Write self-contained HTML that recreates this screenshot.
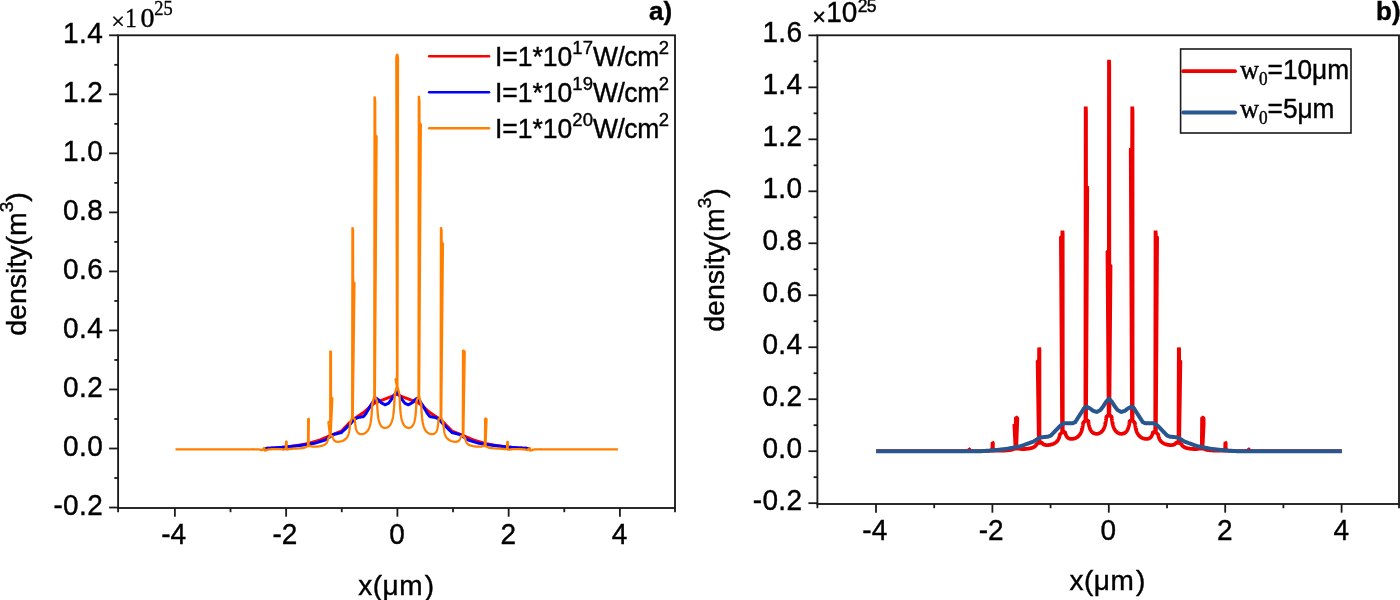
<!DOCTYPE html><html><head><meta charset="utf-8"><style>html,body{margin:0;padding:0;background:#fff;overflow:hidden}svg{display:block}text{stroke:#000;stroke-width:0.4px}</style></head><body><svg width="1400" height="600" viewBox="0 0 1400 600"><rect width="1400" height="600" fill="#fff"/><rect x="118.10" y="35.30" width="556.90" height="472.70" fill="none" stroke="#1a1a1a" stroke-width="1.85"/><line x1="118.10" y1="508.00" x2="118.10" y2="512.20" stroke="#1a1a1a" stroke-width="1.8"/><line x1="174.88" y1="508.00" x2="174.88" y2="516.70" stroke="#1a1a1a" stroke-width="1.8"/><text transform="translate(173.68 544.20) scale(1 1.04)" font-family="Liberation Sans, Arial, sans-serif" font-size="28" text-anchor="middle">-4</text><line x1="230.51" y1="508.00" x2="230.51" y2="512.20" stroke="#1a1a1a" stroke-width="1.8"/><line x1="286.14" y1="508.00" x2="286.14" y2="516.70" stroke="#1a1a1a" stroke-width="1.8"/><text transform="translate(284.94 544.20) scale(1 1.04)" font-family="Liberation Sans, Arial, sans-serif" font-size="28" text-anchor="middle">-2</text><line x1="341.77" y1="508.00" x2="341.77" y2="512.20" stroke="#1a1a1a" stroke-width="1.8"/><line x1="397.40" y1="508.00" x2="397.40" y2="516.70" stroke="#1a1a1a" stroke-width="1.8"/><text transform="translate(397.00 544.20) scale(1 1.04)" font-family="Liberation Sans, Arial, sans-serif" font-size="28" text-anchor="middle">0</text><line x1="453.03" y1="508.00" x2="453.03" y2="512.20" stroke="#1a1a1a" stroke-width="1.8"/><line x1="508.66" y1="508.00" x2="508.66" y2="516.70" stroke="#1a1a1a" stroke-width="1.8"/><text transform="translate(508.26 544.20) scale(1 1.04)" font-family="Liberation Sans, Arial, sans-serif" font-size="28" text-anchor="middle">2</text><line x1="564.29" y1="508.00" x2="564.29" y2="512.20" stroke="#1a1a1a" stroke-width="1.8"/><line x1="619.92" y1="508.00" x2="619.92" y2="516.70" stroke="#1a1a1a" stroke-width="1.8"/><text transform="translate(619.52 544.20) scale(1 1.04)" font-family="Liberation Sans, Arial, sans-serif" font-size="28" text-anchor="middle">4</text><line x1="675.00" y1="508.00" x2="675.00" y2="512.20" stroke="#1a1a1a" stroke-width="1.8"/><line x1="118.10" y1="507.53" x2="109.10" y2="507.53" stroke="#1a1a1a" stroke-width="1.8"/><text transform="translate(103.20 515.33) scale(1 1.04)" font-family="Liberation Sans, Arial, sans-serif" font-size="28" text-anchor="end" letter-spacing="0.4">-0.2</text><line x1="118.10" y1="478.01" x2="114.30" y2="478.01" stroke="#1a1a1a" stroke-width="1.8"/><line x1="118.10" y1="448.50" x2="109.10" y2="448.50" stroke="#1a1a1a" stroke-width="1.8"/><text transform="translate(103.20 456.30) scale(1 1.04)" font-family="Liberation Sans, Arial, sans-serif" font-size="28" text-anchor="end" letter-spacing="0.4">0.0</text><line x1="118.10" y1="418.99" x2="114.30" y2="418.99" stroke="#1a1a1a" stroke-width="1.8"/><line x1="118.10" y1="389.47" x2="109.10" y2="389.47" stroke="#1a1a1a" stroke-width="1.8"/><text transform="translate(103.20 397.27) scale(1 1.04)" font-family="Liberation Sans, Arial, sans-serif" font-size="28" text-anchor="end" letter-spacing="0.4">0.2</text><line x1="118.10" y1="359.96" x2="114.30" y2="359.96" stroke="#1a1a1a" stroke-width="1.8"/><line x1="118.10" y1="330.44" x2="109.10" y2="330.44" stroke="#1a1a1a" stroke-width="1.8"/><text transform="translate(103.20 338.24) scale(1 1.04)" font-family="Liberation Sans, Arial, sans-serif" font-size="28" text-anchor="end" letter-spacing="0.4">0.4</text><line x1="118.10" y1="300.93" x2="114.30" y2="300.93" stroke="#1a1a1a" stroke-width="1.8"/><line x1="118.10" y1="271.42" x2="109.10" y2="271.42" stroke="#1a1a1a" stroke-width="1.8"/><text transform="translate(103.20 279.22) scale(1 1.04)" font-family="Liberation Sans, Arial, sans-serif" font-size="28" text-anchor="end" letter-spacing="0.4">0.6</text><line x1="118.10" y1="241.90" x2="114.30" y2="241.90" stroke="#1a1a1a" stroke-width="1.8"/><line x1="118.10" y1="212.39" x2="109.10" y2="212.39" stroke="#1a1a1a" stroke-width="1.8"/><text transform="translate(103.20 220.19) scale(1 1.04)" font-family="Liberation Sans, Arial, sans-serif" font-size="28" text-anchor="end" letter-spacing="0.4">0.8</text><line x1="118.10" y1="182.87" x2="114.30" y2="182.87" stroke="#1a1a1a" stroke-width="1.8"/><line x1="118.10" y1="153.36" x2="109.10" y2="153.36" stroke="#1a1a1a" stroke-width="1.8"/><text transform="translate(103.20 161.16) scale(1 1.04)" font-family="Liberation Sans, Arial, sans-serif" font-size="28" text-anchor="end" letter-spacing="0.4">1.0</text><line x1="118.10" y1="123.85" x2="114.30" y2="123.85" stroke="#1a1a1a" stroke-width="1.8"/><line x1="118.10" y1="94.33" x2="109.10" y2="94.33" stroke="#1a1a1a" stroke-width="1.8"/><text transform="translate(103.20 102.13) scale(1 1.04)" font-family="Liberation Sans, Arial, sans-serif" font-size="28" text-anchor="end" letter-spacing="0.4">1.2</text><line x1="118.10" y1="64.82" x2="114.30" y2="64.82" stroke="#1a1a1a" stroke-width="1.8"/><line x1="118.10" y1="35.30" x2="109.10" y2="35.30" stroke="#1a1a1a" stroke-width="1.8"/><text transform="translate(103.20 43.10) scale(1 1.04)" font-family="Liberation Sans, Arial, sans-serif" font-size="28" text-anchor="end" letter-spacing="0.4">1.4</text><path d="M263.98 448.50L264.26 448.49L264.53 448.47L264.81 448.46L265.09 448.44L265.36 448.43L265.64 448.41L265.92 448.40L266.19 448.38L266.47 448.37L266.74 448.35L267.02 448.34L267.30 448.32L267.57 448.31L267.85 448.29L268.13 448.28L268.40 448.26L268.68 448.25L268.96 448.23L269.23 448.22L269.51 448.20L269.79 448.19L270.06 448.18L270.34 448.16L270.62 448.15L270.89 448.13L271.17 448.12L271.45 448.10L271.72 448.09L272.00 448.07L272.27 448.06L272.55 448.04L272.83 448.03L273.10 448.01L273.38 448.00L273.66 447.98L273.93 447.97L274.21 447.95L274.49 447.94L274.76 447.92L275.04 447.91L275.32 447.89L275.59 447.87L275.87 447.84L276.15 447.82L276.42 447.80L276.70 447.78L276.98 447.75L277.25 447.73L277.53 447.71L277.80 447.69L278.08 447.67L278.36 447.64L278.63 447.62L278.91 447.60L279.19 447.58L279.46 447.56L279.74 447.53L280.02 447.51L280.29 447.49L280.57 447.47L280.85 447.44L281.12 447.42L281.40 447.40L281.68 447.38L281.95 447.36L282.23 447.33L282.51 447.31L282.78 447.29L283.06 447.27L283.33 447.25L283.61 447.22L283.89 447.20L284.16 447.18L284.44 447.16L284.72 447.13L284.99 447.11L285.27 447.09L285.55 447.07L285.82 447.05L286.10 447.02L286.38 446.99L286.65 446.95L286.93 446.91L287.21 446.88L287.48 446.84L287.76 446.80L288.04 446.77L288.31 446.73L288.59 446.69L288.86 446.66L289.14 446.62L289.42 446.58L289.69 446.54L289.97 446.51L290.25 446.47L290.52 446.43L290.80 446.40L291.08 446.36L291.35 446.32L291.63 446.29L291.91 446.25L292.18 446.21L292.46 446.18L292.74 446.14L293.01 446.10L293.29 446.07L293.57 446.03L293.84 445.99L294.12 445.95L294.39 445.92L294.67 445.88L294.95 445.84L295.22 445.81L295.50 445.77L295.78 445.73L296.05 445.70L296.33 445.66L296.61 445.62L296.88 445.59L297.16 445.55L297.44 445.50L297.71 445.45L297.99 445.39L298.27 445.34L298.54 445.29L298.82 445.24L299.10 445.19L299.37 445.14L299.65 445.08L299.92 445.03L300.20 444.98L300.48 444.93L300.75 444.88L301.03 444.83L301.31 444.77L301.58 444.72L301.86 444.67L302.14 444.62L302.41 444.57L302.69 444.52L302.97 444.46L303.24 444.41L303.52 444.36L303.80 444.31L304.07 444.26L304.35 444.21L304.63 444.15L304.90 444.10L305.18 444.05L305.45 444.00L305.73 443.95L306.01 443.90L306.28 443.84L306.56 443.79L306.84 443.74L307.11 443.69L307.39 443.64L307.67 443.59L307.94 443.53L308.22 443.48L308.50 443.40L308.77 443.32L309.05 443.24L309.33 443.16L309.60 443.08L309.88 443.00L310.16 442.91L310.43 442.83L310.71 442.75L310.98 442.67L311.26 442.59L311.54 442.51L311.81 442.43L312.09 442.35L312.37 442.27L312.64 442.18L312.92 442.10L313.20 442.02L313.47 441.94L313.75 441.86L314.03 441.78L314.30 441.70L314.58 441.62L314.86 441.53L315.13 441.45L315.41 441.37L315.69 441.29L315.96 441.21L316.24 441.13L316.51 441.05L316.79 440.97L317.07 440.89L317.34 440.80L317.62 440.72L317.90 440.64L318.17 440.56L318.45 440.48L318.73 440.40L319.00 440.32L319.28 440.24L319.56 440.12L319.83 440.00L320.11 439.88L320.39 439.76L320.66 439.65L320.94 439.53L321.22 439.41L321.49 439.29L321.77 439.17L322.04 439.06L322.32 438.94L322.60 438.82L322.87 438.70L323.15 438.58L323.43 438.47L323.70 438.35L323.98 438.23L324.26 438.11L324.53 437.99L324.81 437.87L325.09 437.76L325.36 437.64L325.64 437.52L325.92 437.40L326.19 437.28L326.47 437.17L326.75 437.05L327.02 436.93L327.30 436.81L327.57 436.69L327.85 436.58L328.13 436.46L328.40 436.34L328.68 436.22L328.96 436.10L329.23 435.99L329.51 435.87L329.79 435.75L330.06 435.63L330.34 435.51L330.62 435.40L330.89 435.29L331.17 435.18L331.45 435.07L331.72 434.96L332.00 434.85L332.28 434.74L332.55 434.63L332.83 434.52L333.10 434.41L333.38 434.30L333.66 434.19L333.93 434.08L334.21 433.96L334.49 433.85L334.76 433.74L335.04 433.63L335.32 433.52L335.59 433.41L335.87 433.30L336.15 433.19L336.42 433.08L336.70 432.97L336.98 432.86L337.25 432.75L337.53 432.64L337.81 432.53L338.08 432.41L338.36 432.30L338.63 432.19L338.91 432.08L339.19 431.97L339.46 431.86L339.74 431.75L340.02 431.64L340.29 431.53L340.57 431.42L340.85 431.31L341.12 431.20L341.40 431.09L341.68 430.80L341.95 430.52L342.23 430.23L342.51 429.95L342.78 429.66L343.06 429.37L343.34 429.09L343.61 428.80L343.89 428.52L344.16 428.23L344.44 427.95L344.72 427.66L344.99 427.38L345.27 427.09L345.55 426.81L345.82 426.52L346.10 426.24L346.38 425.95L346.65 425.67L346.93 425.38L347.21 425.10L347.48 424.81L347.76 424.52L348.04 424.24L348.31 423.95L348.59 423.67L348.87 423.38L349.14 423.10L349.42 422.81L349.69 422.53L349.97 422.30L350.25 422.08L350.52 421.85L350.80 421.63L351.08 421.40L351.35 421.18L351.63 420.95L351.91 420.73L352.18 420.50L352.46 420.28L352.74 420.05L353.01 419.83L353.29 419.60L353.57 419.38L353.84 419.15L354.12 418.93L354.40 418.70L354.67 418.48L354.95 418.26L355.22 418.03L355.50 417.81L355.78 417.62L356.05 417.44L356.33 417.26L356.61 417.07L356.88 416.89L357.16 416.71L357.44 416.52L357.71 416.34L357.99 416.16L358.27 415.97L358.54 415.79L358.82 415.61L359.10 415.42L359.37 415.24L359.65 415.06L359.93 414.87L360.20 414.69L360.48 414.51L360.75 414.32L361.03 414.14L361.31 413.96L361.58 413.78L361.86 413.59L362.14 413.41L362.41 413.23L362.69 413.04L362.97 412.86L363.24 412.68L363.52 412.49L363.80 412.25L364.07 412.01L364.35 411.77L364.63 411.53L364.90 411.29L365.18 411.05L365.46 410.81L365.73 410.57L366.01 410.33L366.28 410.09L366.56 409.84L366.84 409.60L367.11 409.36L367.39 409.12L367.67 408.88L367.94 408.64L368.22 408.40L368.50 408.16L368.77 407.92L369.05 407.68L369.33 407.44L369.60 407.20L369.88 406.96L370.16 406.71L370.43 406.47L370.71 406.23L370.99 405.99L371.26 405.75L371.54 405.51L371.81 405.27L372.09 405.03L372.37 404.79L372.64 404.55L372.92 404.31L373.20 404.07L373.47 403.83L373.75 403.58L374.03 403.34L374.30 403.23L374.58 403.12L374.86 403.01L375.13 402.90L375.41 402.79L375.69 402.68L375.96 402.57L376.24 402.46L376.52 402.35L376.79 402.24L377.07 402.13L377.34 402.02L377.62 401.90L377.90 401.79L378.17 401.68L378.45 401.57L378.73 401.46L379.00 401.35L379.28 401.24L379.56 401.13L379.83 401.02L380.11 400.91L380.39 400.80L380.66 400.69L380.94 400.58L381.22 400.47L381.49 400.37L381.77 400.26L382.05 400.15L382.32 400.04L382.60 399.94L382.87 399.83L383.15 399.72L383.43 399.61L383.70 399.51L383.98 399.40L384.26 399.29L384.53 399.18L384.81 399.08L385.09 398.97L385.36 398.86L385.64 398.76L385.92 398.65L386.19 398.54L386.47 398.43L386.75 398.33L387.02 398.22L387.30 398.12L387.58 398.02L387.85 397.91L388.13 397.81L388.40 397.71L388.68 397.60L388.96 397.50L389.23 397.40L389.51 397.29L389.79 397.19L390.06 397.09L390.34 396.98L390.62 396.88L390.89 396.78L391.17 396.67L391.45 396.57L391.72 396.47L392.00 396.36L392.28 396.26L392.55 396.13L392.83 396.00L393.11 395.87L393.38 395.74L393.66 395.61L393.93 395.49L394.21 395.36L394.49 395.23L394.76 395.10L395.04 394.97L395.32 394.84L395.59 394.71L395.87 394.58L396.15 394.45L396.42 394.32L396.70 394.19L396.98 394.32L397.25 394.45L397.53 394.58L397.81 394.71L398.08 394.84L398.36 394.97L398.64 395.10L398.91 395.23L399.19 395.36L399.46 395.49L399.74 395.61L400.02 395.74L400.29 395.87L400.57 396.00L400.85 396.13L401.12 396.26L401.40 396.36L401.68 396.47L401.95 396.57L402.23 396.67L402.51 396.78L402.78 396.88L403.06 396.98L403.34 397.09L403.61 397.19L403.89 397.29L404.17 397.40L404.44 397.50L404.72 397.60L404.99 397.71L405.27 397.81L405.55 397.91L405.82 398.02L406.10 398.12L406.38 398.22L406.65 398.33L406.93 398.43L407.21 398.54L407.48 398.65L407.76 398.76L408.04 398.86L408.31 398.97L408.59 399.08L408.87 399.18L409.14 399.29L409.42 399.40L409.70 399.51L409.97 399.61L410.25 399.72L410.52 399.83L410.80 399.94L411.08 400.04L411.35 400.15L411.63 400.26L411.91 400.37L412.18 400.47L412.46 400.58L412.74 400.69L413.01 400.80L413.29 400.91L413.57 401.02L413.84 401.13L414.12 401.24L414.40 401.35L414.67 401.46L414.95 401.57L415.23 401.68L415.50 401.79L415.78 401.90L416.05 402.02L416.33 402.13L416.61 402.24L416.88 402.35L417.16 402.46L417.44 402.57L417.71 402.68L417.99 402.79L418.27 402.90L418.54 403.01L418.82 403.12L419.10 403.23L419.37 403.34L419.65 403.58L419.93 403.83L420.20 404.07L420.48 404.31L420.76 404.55L421.03 404.79L421.31 405.03L421.58 405.27L421.86 405.51L422.14 405.75L422.41 405.99L422.69 406.23L422.97 406.47L423.24 406.71L423.52 406.96L423.80 407.20L424.07 407.44L424.35 407.68L424.63 407.92L424.90 408.16L425.18 408.40L425.46 408.64L425.73 408.88L426.01 409.12L426.29 409.36L426.56 409.60L426.84 409.84L427.11 410.09L427.39 410.33L427.67 410.57L427.94 410.81L428.22 411.05L428.50 411.29L428.77 411.53L429.05 411.77L429.33 412.01L429.60 412.25L429.88 412.49L430.16 412.68L430.43 412.86L430.71 413.04L430.99 413.23L431.26 413.41L431.54 413.59L431.82 413.78L432.09 413.96L432.37 414.14L432.64 414.32L432.92 414.51L433.20 414.69L433.47 414.87L433.75 415.06L434.03 415.24L434.30 415.42L434.58 415.61L434.86 415.79L435.13 415.97L435.41 416.16L435.69 416.34L435.96 416.52L436.24 416.71L436.52 416.89L436.79 417.07L437.07 417.26L437.35 417.44L437.62 417.62L437.90 417.81L438.17 418.03L438.45 418.26L438.73 418.48L439.00 418.70L439.28 418.93L439.56 419.15L439.83 419.38L440.11 419.60L440.39 419.83L440.66 420.05L440.94 420.28L441.22 420.50L441.49 420.73L441.77 420.95L442.05 421.18L442.32 421.40L442.60 421.63L442.88 421.85L443.15 422.08L443.43 422.30L443.70 422.53L443.98 422.81L444.26 423.10L444.53 423.38L444.81 423.67L445.09 423.95L445.36 424.24L445.64 424.52L445.92 424.81L446.19 425.10L446.47 425.38L446.75 425.67L447.02 425.95L447.30 426.24L447.58 426.52L447.85 426.81L448.13 427.09L448.41 427.38L448.68 427.66L448.96 427.95L449.23 428.23L449.51 428.52L449.79 428.80L450.06 429.09L450.34 429.37L450.62 429.66L450.89 429.95L451.17 430.23L451.45 430.52L451.72 430.80L452.00 431.09L452.28 431.20L452.55 431.31L452.83 431.42L453.11 431.53L453.38 431.64L453.66 431.75L453.94 431.86L454.21 431.97L454.49 432.08L454.76 432.19L455.04 432.30L455.32 432.41L455.59 432.53L455.87 432.64L456.15 432.75L456.42 432.86L456.70 432.97L456.98 433.08L457.25 433.19L457.53 433.30L457.81 433.41L458.08 433.52L458.36 433.63L458.64 433.74L458.91 433.85L459.19 433.96L459.47 434.08L459.74 434.19L460.02 434.30L460.29 434.41L460.57 434.52L460.85 434.63L461.12 434.74L461.40 434.85L461.68 434.96L461.95 435.07L462.23 435.18L462.51 435.29L462.78 435.40L463.06 435.51L463.34 435.63L463.61 435.75L463.89 435.87L464.17 435.99L464.44 436.10L464.72 436.22L465.00 436.34L465.27 436.46L465.55 436.58L465.82 436.69L466.10 436.81L466.38 436.93L466.65 437.05L466.93 437.17L467.21 437.28L467.48 437.40L467.76 437.52L468.04 437.64L468.31 437.76L468.59 437.87L468.87 437.99L469.14 438.11L469.42 438.23L469.70 438.35L469.97 438.47L470.25 438.58L470.53 438.70L470.80 438.82L471.08 438.94L471.35 439.06L471.63 439.17L471.91 439.29L472.18 439.41L472.46 439.53L472.74 439.65L473.01 439.76L473.29 439.88L473.57 440.00L473.84 440.12L474.12 440.24L474.40 440.32L474.67 440.40L474.95 440.48L475.23 440.56L475.50 440.64L475.78 440.72L476.06 440.80L476.33 440.89L476.61 440.97L476.88 441.05L477.16 441.13L477.44 441.21L477.71 441.29L477.99 441.37L478.27 441.45L478.54 441.53L478.82 441.62L479.10 441.70L479.37 441.78L479.65 441.86L479.93 441.94L480.20 442.02L480.48 442.10L480.76 442.18L481.03 442.27L481.31 442.35L481.59 442.43L481.86 442.51L482.14 442.59L482.41 442.67L482.69 442.75L482.97 442.83L483.24 442.91L483.52 443.00L483.80 443.08L484.07 443.16L484.35 443.24L484.63 443.32L484.90 443.40L485.18 443.48L485.46 443.53L485.73 443.59L486.01 443.64L486.29 443.69L486.56 443.74L486.84 443.79L487.12 443.84L487.39 443.90L487.67 443.95L487.94 444.00L488.22 444.05L488.50 444.10L488.77 444.15L489.05 444.21L489.33 444.26L489.60 444.31L489.88 444.36L490.16 444.41L490.43 444.46L490.71 444.52L490.99 444.57L491.26 444.62L491.54 444.67L491.82 444.72L492.09 444.77L492.37 444.83L492.65 444.88L492.92 444.93L493.20 444.98L493.47 445.03L493.75 445.08L494.03 445.14L494.30 445.19L494.58 445.24L494.86 445.29L495.13 445.34L495.41 445.39L495.69 445.45L495.96 445.50L496.24 445.55L496.52 445.59L496.79 445.62L497.07 445.66L497.35 445.70L497.62 445.73L497.90 445.77L498.18 445.81L498.45 445.84L498.73 445.88L499.00 445.92L499.28 445.95L499.56 445.99L499.83 446.03L500.11 446.07L500.39 446.10L500.66 446.14L500.94 446.18L501.22 446.21L501.49 446.25L501.77 446.29L502.05 446.32L502.32 446.36L502.60 446.40L502.88 446.43L503.15 446.47L503.43 446.51L503.71 446.54L503.98 446.58L504.26 446.62L504.53 446.66L504.81 446.69L505.09 446.73L505.36 446.77L505.64 446.80L505.92 446.84L506.19 446.88L506.47 446.91L506.75 446.95L507.02 446.99L507.30 447.02L507.58 447.05L507.85 447.07L508.13 447.09L508.41 447.11L508.68 447.13L508.96 447.16L509.24 447.18L509.51 447.20L509.79 447.22L510.06 447.25L510.34 447.27L510.62 447.29L510.89 447.31L511.17 447.33L511.45 447.36L511.72 447.38L512.00 447.40L512.28 447.42L512.55 447.44L512.83 447.47L513.11 447.49L513.38 447.51L513.66 447.53L513.94 447.56L514.21 447.58L514.49 447.60L514.77 447.62L515.04 447.64L515.32 447.67L515.59 447.69L515.87 447.71L516.15 447.73L516.42 447.75L516.70 447.78L516.98 447.80L517.25 447.82L517.53 447.84L517.81 447.87L518.08 447.89L518.36 447.91L518.64 447.92L518.91 447.94L519.19 447.95L519.47 447.97L519.74 447.98L520.02 448.00L520.30 448.01L520.57 448.03L520.85 448.04L521.12 448.06L521.40 448.07L521.68 448.09L521.95 448.10L522.23 448.12L522.51 448.13L522.78 448.15L523.06 448.16L523.34 448.18L523.61 448.19L523.89 448.20L524.17 448.22L524.44 448.23L524.72 448.25L525.00 448.26L525.27 448.28L525.55 448.29L525.83 448.31L526.10 448.32L526.38 448.34L526.65 448.35L526.93 448.37L527.21 448.38L527.48 448.40L527.76 448.41L528.04 448.43L528.31 448.44L528.59 448.46L528.87 448.47L529.14 448.49L529.42 448.50" fill="none" stroke="#ff0000" stroke-width="3" stroke-linejoin="round" stroke-linecap="butt"/><path d="M263.98 448.50L264.26 448.49L264.53 448.47L264.81 448.46L265.09 448.44L265.36 448.43L265.64 448.41L265.92 448.40L266.19 448.38L266.47 448.37L266.74 448.35L267.02 448.34L267.30 448.32L267.57 448.31L267.85 448.29L268.13 448.28L268.40 448.26L268.68 448.25L268.96 448.23L269.23 448.22L269.51 448.20L269.79 448.19L270.06 448.18L270.34 448.16L270.62 448.15L270.89 448.13L271.17 448.12L271.45 448.10L271.72 448.09L272.00 448.07L272.27 448.06L272.55 448.04L272.83 448.03L273.10 448.01L273.38 448.00L273.66 447.98L273.93 447.97L274.21 447.95L274.49 447.94L274.76 447.92L275.04 447.91L275.32 447.89L275.59 447.87L275.87 447.84L276.15 447.82L276.42 447.80L276.70 447.78L276.98 447.75L277.25 447.73L277.53 447.71L277.80 447.69L278.08 447.67L278.36 447.64L278.63 447.62L278.91 447.60L279.19 447.58L279.46 447.56L279.74 447.53L280.02 447.51L280.29 447.49L280.57 447.47L280.85 447.44L281.12 447.42L281.40 447.40L281.68 447.38L281.95 447.36L282.23 447.33L282.51 447.31L282.78 447.29L283.06 447.27L283.33 447.25L283.61 447.22L283.89 447.20L284.16 447.18L284.44 447.16L284.72 447.13L284.99 447.11L285.27 447.09L285.55 447.07L285.82 447.05L286.10 447.02L286.38 446.99L286.65 446.96L286.93 446.93L287.21 446.90L287.48 446.87L287.76 446.83L288.04 446.80L288.31 446.77L288.59 446.74L288.86 446.71L289.14 446.68L289.42 446.64L289.69 446.61L289.97 446.58L290.25 446.55L290.52 446.52L290.80 446.49L291.08 446.46L291.35 446.42L291.63 446.39L291.91 446.36L292.18 446.33L292.46 446.30L292.74 446.27L293.01 446.23L293.29 446.20L293.57 446.17L293.84 446.14L294.12 446.11L294.39 446.08L294.67 446.04L294.95 446.01L295.22 445.98L295.50 445.95L295.78 445.92L296.05 445.89L296.33 445.85L296.61 445.82L296.88 445.79L297.16 445.76L297.44 445.73L297.71 445.70L297.99 445.66L298.27 445.63L298.54 445.60L298.82 445.57L299.10 445.54L299.37 445.51L299.65 445.47L299.92 445.44L300.20 445.41L300.48 445.38L300.75 445.35L301.03 445.32L301.31 445.29L301.58 445.25L301.86 445.21L302.14 445.17L302.41 445.12L302.69 445.08L302.97 445.04L303.24 445.00L303.52 444.95L303.80 444.91L304.07 444.87L304.35 444.82L304.63 444.78L304.90 444.74L305.18 444.69L305.45 444.65L305.73 444.61L306.01 444.56L306.28 444.52L306.56 444.48L306.84 444.44L307.11 444.39L307.39 444.35L307.67 444.31L307.94 444.26L308.22 444.22L308.50 444.18L308.77 444.13L309.05 444.09L309.33 444.05L309.60 444.01L309.88 443.96L310.16 443.92L310.43 443.88L310.71 443.83L310.98 443.79L311.26 443.75L311.54 443.70L311.81 443.66L312.09 443.62L312.37 443.57L312.64 443.53L312.92 443.49L313.20 443.45L313.47 443.40L313.75 443.36L314.03 443.32L314.30 443.27L314.58 443.23L314.86 443.19L315.13 443.10L315.41 443.02L315.69 442.93L315.96 442.85L316.24 442.76L316.51 442.67L316.79 442.59L317.07 442.50L317.34 442.42L317.62 442.33L317.90 442.25L318.17 442.16L318.45 442.08L318.73 441.99L319.00 441.91L319.28 441.82L319.56 441.74L319.83 441.65L320.11 441.56L320.39 441.48L320.66 441.39L320.94 441.31L321.22 441.22L321.49 441.14L321.77 441.05L322.04 440.97L322.32 440.88L322.60 440.80L322.87 440.71L323.15 440.62L323.43 440.54L323.70 440.45L323.98 440.37L324.26 440.28L324.53 440.20L324.81 440.11L325.09 440.03L325.36 439.94L325.64 439.75L325.92 439.56L326.19 439.37L326.47 439.18L326.75 438.99L327.02 438.80L327.30 438.61L327.57 438.42L327.85 438.23L328.13 438.04L328.40 437.85L328.68 437.66L328.96 437.47L329.23 437.28L329.51 437.09L329.79 436.91L330.06 436.72L330.34 436.53L330.62 436.34L330.89 436.15L331.17 435.96L331.45 435.77L331.72 435.58L332.00 435.39L332.28 435.20L332.55 435.01L332.83 434.82L333.10 434.63L333.38 434.56L333.66 434.49L333.93 434.42L334.21 434.35L334.49 434.28L334.76 434.22L335.04 434.15L335.32 434.08L335.59 434.01L335.87 433.94L336.15 433.87L336.42 433.80L336.70 433.73L336.98 433.66L337.25 433.60L337.53 433.53L337.81 433.46L338.08 433.39L338.36 433.32L338.63 433.25L338.91 433.18L339.19 433.11L339.46 433.04L339.74 432.98L340.02 432.91L340.29 432.84L340.57 432.77L340.85 432.70L341.12 432.63L341.40 432.56L341.68 432.29L341.95 432.03L342.23 431.76L342.51 431.49L342.78 431.23L343.06 430.96L343.34 430.69L343.61 430.42L343.89 430.16L344.16 429.89L344.44 429.62L344.72 429.35L344.99 429.09L345.27 428.82L345.55 428.55L345.82 428.28L346.10 428.02L346.38 427.75L346.65 427.48L346.93 427.21L347.21 426.95L347.48 426.68L347.76 426.41L348.04 426.14L348.31 425.88L348.59 425.61L348.87 425.34L349.14 425.07L349.42 424.81L349.69 424.54L349.97 424.27L350.25 424.00L350.52 423.69L350.80 423.38L351.08 423.06L351.35 422.75L351.63 422.44L351.91 422.12L352.18 421.81L352.46 421.49L352.74 421.18L353.01 420.87L353.29 420.55L353.57 420.24L353.84 419.93L354.12 419.61L354.40 419.30L354.67 418.99L354.95 418.86L355.22 418.74L355.50 418.62L355.78 418.49L356.05 418.37L356.33 418.25L356.61 418.13L356.88 418.00L357.16 417.88L357.44 417.76L357.71 417.63L357.99 417.51L358.27 417.47L358.54 417.42L358.82 417.38L359.10 417.33L359.37 417.29L359.65 417.24L359.93 417.20L360.20 417.16L360.48 417.11L360.75 417.07L361.03 417.02L361.31 416.98L361.58 416.93L361.86 416.89L362.14 416.85L362.41 416.80L362.69 416.76L362.97 416.71L363.24 416.67L363.52 416.62L363.80 416.27L364.07 415.92L364.35 415.56L364.63 415.21L364.90 414.85L365.18 414.50L365.46 414.15L365.73 413.79L366.01 413.44L366.28 413.08L366.56 412.59L366.84 412.10L367.11 411.61L367.39 411.12L367.67 410.62L367.94 410.13L368.22 409.64L368.50 409.15L368.77 408.66L369.05 408.16L369.33 407.67L369.60 407.18L369.88 406.69L370.16 406.20L370.43 405.70L370.71 405.30L370.99 404.90L371.26 404.50L371.54 404.09L371.81 403.69L372.09 403.29L372.37 402.89L372.64 402.48L372.92 402.08L373.20 401.68L373.47 401.28L373.75 400.98L374.03 400.69L374.30 400.39L374.58 400.10L374.86 399.80L375.13 399.51L375.41 399.21L375.69 398.92L375.96 398.62L376.24 398.33L376.52 398.51L376.79 398.70L377.07 398.88L377.34 399.06L377.62 399.25L377.90 399.43L378.17 399.62L378.45 399.80L378.73 400.10L379.00 400.39L379.28 400.69L379.56 400.98L379.83 401.28L380.11 401.57L380.39 401.87L380.66 402.16L380.94 402.46L381.22 402.75L381.49 402.90L381.77 403.05L382.05 403.20L382.32 403.34L382.60 403.49L382.87 403.64L383.15 403.79L383.43 403.93L383.70 404.08L383.98 404.23L384.26 404.38L384.53 404.52L384.81 404.67L385.09 404.82L385.36 404.70L385.64 404.57L385.92 404.45L386.19 404.33L386.47 404.20L386.75 404.08L387.02 403.96L387.30 403.84L387.58 403.71L387.85 403.59L388.13 403.47L388.40 403.34L388.68 402.99L388.96 402.64L389.23 402.28L389.51 401.93L389.79 401.57L390.06 401.22L390.34 400.86L390.62 400.51L390.89 400.16L391.17 399.80L391.45 399.36L391.72 398.92L392.00 398.47L392.28 398.03L392.55 397.59L392.83 397.15L393.11 396.70L393.38 396.26L393.66 395.82L393.93 395.37L394.21 394.99L394.49 394.61L394.76 394.22L395.04 393.84L395.32 393.46L395.59 393.07L395.87 392.69L396.15 392.31L396.42 391.92L396.70 391.54L396.98 391.92L397.25 392.31L397.53 392.69L397.81 393.07L398.08 393.46L398.36 393.84L398.64 394.22L398.91 394.61L399.19 394.99L399.46 395.37L399.74 395.82L400.02 396.26L400.29 396.70L400.57 397.15L400.85 397.59L401.12 398.03L401.40 398.47L401.68 398.92L401.95 399.36L402.23 399.80L402.51 400.16L402.78 400.51L403.06 400.86L403.34 401.22L403.61 401.57L403.89 401.93L404.17 402.28L404.44 402.64L404.72 402.99L404.99 403.34L405.27 403.47L405.55 403.59L405.82 403.71L406.10 403.84L406.38 403.96L406.65 404.08L406.93 404.20L407.21 404.33L407.48 404.45L407.76 404.57L408.04 404.70L408.31 404.82L408.59 404.67L408.87 404.52L409.14 404.38L409.42 404.23L409.70 404.08L409.97 403.93L410.25 403.79L410.52 403.64L410.80 403.49L411.08 403.34L411.35 403.20L411.63 403.05L411.91 402.90L412.18 402.75L412.46 402.46L412.74 402.16L413.01 401.87L413.29 401.57L413.57 401.28L413.84 400.98L414.12 400.69L414.40 400.39L414.67 400.10L414.95 399.80L415.23 399.62L415.50 399.43L415.78 399.25L416.05 399.06L416.33 398.88L416.61 398.70L416.88 398.51L417.16 398.33L417.44 398.62L417.71 398.92L417.99 399.21L418.27 399.51L418.54 399.80L418.82 400.10L419.10 400.39L419.37 400.69L419.65 400.98L419.93 401.28L420.20 401.68L420.48 402.08L420.76 402.48L421.03 402.89L421.31 403.29L421.58 403.69L421.86 404.09L422.14 404.50L422.41 404.90L422.69 405.30L422.97 405.70L423.24 406.20L423.52 406.69L423.80 407.18L424.07 407.67L424.35 408.16L424.63 408.66L424.90 409.15L425.18 409.64L425.46 410.13L425.73 410.62L426.01 411.12L426.29 411.61L426.56 412.10L426.84 412.59L427.11 413.08L427.39 413.44L427.67 413.79L427.94 414.15L428.22 414.50L428.50 414.85L428.77 415.21L429.05 415.56L429.33 415.92L429.60 416.27L429.88 416.62L430.16 416.67L430.43 416.71L430.71 416.76L430.99 416.80L431.26 416.85L431.54 416.89L431.82 416.93L432.09 416.98L432.37 417.02L432.64 417.07L432.92 417.11L433.20 417.16L433.47 417.20L433.75 417.24L434.03 417.29L434.30 417.33L434.58 417.38L434.86 417.42L435.13 417.47L435.41 417.51L435.69 417.63L435.96 417.76L436.24 417.88L436.52 418.00L436.79 418.13L437.07 418.25L437.35 418.37L437.62 418.49L437.90 418.62L438.17 418.74L438.45 418.86L438.73 418.99L439.00 419.30L439.28 419.61L439.56 419.93L439.83 420.24L440.11 420.55L440.39 420.87L440.66 421.18L440.94 421.49L441.22 421.81L441.49 422.12L441.77 422.44L442.05 422.75L442.32 423.06L442.60 423.38L442.88 423.69L443.15 424.00L443.43 424.27L443.70 424.54L443.98 424.81L444.26 425.07L444.53 425.34L444.81 425.61L445.09 425.88L445.36 426.14L445.64 426.41L445.92 426.68L446.19 426.95L446.47 427.21L446.75 427.48L447.02 427.75L447.30 428.02L447.58 428.28L447.85 428.55L448.13 428.82L448.41 429.09L448.68 429.35L448.96 429.62L449.23 429.89L449.51 430.16L449.79 430.42L450.06 430.69L450.34 430.96L450.62 431.23L450.89 431.49L451.17 431.76L451.45 432.03L451.72 432.29L452.00 432.56L452.28 432.63L452.55 432.70L452.83 432.77L453.11 432.84L453.38 432.91L453.66 432.98L453.94 433.04L454.21 433.11L454.49 433.18L454.76 433.25L455.04 433.32L455.32 433.39L455.59 433.46L455.87 433.53L456.15 433.60L456.42 433.66L456.70 433.73L456.98 433.80L457.25 433.87L457.53 433.94L457.81 434.01L458.08 434.08L458.36 434.15L458.64 434.22L458.91 434.28L459.19 434.35L459.47 434.42L459.74 434.49L460.02 434.56L460.29 434.63L460.57 434.82L460.85 435.01L461.12 435.20L461.40 435.39L461.68 435.58L461.95 435.77L462.23 435.96L462.51 436.15L462.78 436.34L463.06 436.53L463.34 436.72L463.61 436.91L463.89 437.09L464.17 437.28L464.44 437.47L464.72 437.66L465.00 437.85L465.27 438.04L465.55 438.23L465.82 438.42L466.10 438.61L466.38 438.80L466.65 438.99L466.93 439.18L467.21 439.37L467.48 439.56L467.76 439.75L468.04 439.94L468.31 440.03L468.59 440.11L468.87 440.20L469.14 440.28L469.42 440.37L469.70 440.45L469.97 440.54L470.25 440.62L470.53 440.71L470.80 440.80L471.08 440.88L471.35 440.97L471.63 441.05L471.91 441.14L472.18 441.22L472.46 441.31L472.74 441.39L473.01 441.48L473.29 441.56L473.57 441.65L473.84 441.74L474.12 441.82L474.40 441.91L474.67 441.99L474.95 442.08L475.23 442.16L475.50 442.25L475.78 442.33L476.06 442.42L476.33 442.50L476.61 442.59L476.88 442.67L477.16 442.76L477.44 442.85L477.71 442.93L477.99 443.02L478.27 443.10L478.54 443.19L478.82 443.23L479.10 443.27L479.37 443.32L479.65 443.36L479.93 443.40L480.20 443.45L480.48 443.49L480.76 443.53L481.03 443.57L481.31 443.62L481.59 443.66L481.86 443.70L482.14 443.75L482.41 443.79L482.69 443.83L482.97 443.88L483.24 443.92L483.52 443.96L483.80 444.01L484.07 444.05L484.35 444.09L484.63 444.13L484.90 444.18L485.18 444.22L485.46 444.26L485.73 444.31L486.01 444.35L486.29 444.39L486.56 444.44L486.84 444.48L487.12 444.52L487.39 444.56L487.67 444.61L487.94 444.65L488.22 444.69L488.50 444.74L488.77 444.78L489.05 444.82L489.33 444.87L489.60 444.91L489.88 444.95L490.16 445.00L490.43 445.04L490.71 445.08L490.99 445.12L491.26 445.17L491.54 445.21L491.82 445.25L492.09 445.29L492.37 445.32L492.65 445.35L492.92 445.38L493.20 445.41L493.47 445.44L493.75 445.47L494.03 445.51L494.30 445.54L494.58 445.57L494.86 445.60L495.13 445.63L495.41 445.66L495.69 445.70L495.96 445.73L496.24 445.76L496.52 445.79L496.79 445.82L497.07 445.85L497.35 445.89L497.62 445.92L497.90 445.95L498.18 445.98L498.45 446.01L498.73 446.04L499.00 446.08L499.28 446.11L499.56 446.14L499.83 446.17L500.11 446.20L500.39 446.23L500.66 446.27L500.94 446.30L501.22 446.33L501.49 446.36L501.77 446.39L502.05 446.42L502.32 446.46L502.60 446.49L502.88 446.52L503.15 446.55L503.43 446.58L503.71 446.61L503.98 446.64L504.26 446.68L504.53 446.71L504.81 446.74L505.09 446.77L505.36 446.80L505.64 446.83L505.92 446.87L506.19 446.90L506.47 446.93L506.75 446.96L507.02 446.99L507.30 447.02L507.58 447.05L507.85 447.07L508.13 447.09L508.41 447.11L508.68 447.13L508.96 447.16L509.24 447.18L509.51 447.20L509.79 447.22L510.06 447.25L510.34 447.27L510.62 447.29L510.89 447.31L511.17 447.33L511.45 447.36L511.72 447.38L512.00 447.40L512.28 447.42L512.55 447.44L512.83 447.47L513.11 447.49L513.38 447.51L513.66 447.53L513.94 447.56L514.21 447.58L514.49 447.60L514.77 447.62L515.04 447.64L515.32 447.67L515.59 447.69L515.87 447.71L516.15 447.73L516.42 447.75L516.70 447.78L516.98 447.80L517.25 447.82L517.53 447.84L517.81 447.87L518.08 447.89L518.36 447.91L518.64 447.92L518.91 447.94L519.19 447.95L519.47 447.97L519.74 447.98L520.02 448.00L520.30 448.01L520.57 448.03L520.85 448.04L521.12 448.06L521.40 448.07L521.68 448.09L521.95 448.10L522.23 448.12L522.51 448.13L522.78 448.15L523.06 448.16L523.34 448.18L523.61 448.19L523.89 448.20L524.17 448.22L524.44 448.23L524.72 448.25L525.00 448.26L525.27 448.28L525.55 448.29L525.83 448.31L526.10 448.32L526.38 448.34L526.65 448.35L526.93 448.37L527.21 448.38L527.48 448.40L527.76 448.41L528.04 448.43L528.31 448.44L528.59 448.46L528.87 448.47L529.14 448.49L529.42 448.50" fill="none" stroke="#0000ff" stroke-width="3" stroke-linejoin="round" stroke-linecap="butt"/><path d="M175.50 449.30L176.61 449.30L177.71 449.30L178.82 449.30L179.92 449.30L181.03 449.30L182.14 449.30L183.24 449.30L184.35 449.30L185.45 449.30L186.56 449.30L187.67 449.30L188.77 449.30L189.88 449.30L190.98 449.30L192.09 449.30L193.20 449.30L194.30 449.30L195.41 449.30L196.51 449.30L197.62 449.30L198.73 449.30L199.83 449.30L200.94 449.30L202.04 449.30L203.15 449.30L204.26 449.30L205.36 449.30L206.47 449.30L207.57 449.30L208.68 449.30L209.79 449.30L210.89 449.30L212.00 449.30L213.10 449.30L214.21 449.30L215.32 449.30L216.42 449.30L217.53 449.30L218.63 449.30L219.74 449.30L220.85 449.30L221.95 449.30L223.06 449.30L224.16 449.30L225.27 449.30L226.38 449.30L227.48 449.30L228.59 449.30L229.69 449.29L230.80 449.29L231.91 449.29L233.01 449.29L234.12 449.29L235.22 449.29L236.33 449.29L237.44 449.29L238.54 449.29L239.65 449.29L240.75 449.29L241.86 449.29L242.97 449.29L244.07 449.29L245.18 449.29L246.28 449.29L247.39 449.28L248.50 449.28L249.60 449.28L250.71 449.28L251.81 449.28L252.92 449.27L253.78 449.28L254.57 449.28L255.15 449.29L255.64 449.30L256.07 449.31L256.45 449.33L256.80 449.34L257.13 449.35L257.43 449.37L257.71 449.39L257.98 449.40L258.23 449.42L258.46 449.44L258.69 449.46L258.90 449.48L259.10 449.50L259.29 449.53L259.47 449.55L259.65 449.58L259.81 449.61L259.97 449.64L260.12 449.67L260.27 449.71L260.40 449.74L260.53 449.78L260.66 449.82L260.78 449.87L260.89 449.91L261.00 449.96L261.10 450.02L261.20 450.08L261.29 450.14L261.38 450.21L261.46 450.29L261.54 450.37L263.70 448.50L263.98 447.91L264.59 447.92L264.26 450.63L266.42 450.30L266.50 450.22L266.58 450.14L266.67 450.08L266.76 450.01L266.86 449.95L266.96 449.90L267.07 449.85L267.18 449.80L267.30 449.76L267.43 449.71L267.56 449.68L267.69 449.64L267.84 449.60L267.99 449.57L268.15 449.54L268.31 449.51L268.49 449.48L268.67 449.46L268.86 449.43L269.06 449.41L269.27 449.38L269.50 449.36L269.73 449.34L269.98 449.32L270.25 449.30L270.53 449.28L270.83 449.27L271.16 449.25L271.51 449.23L271.89 449.21L272.32 449.20L272.81 449.18L273.39 449.17L274.18 449.15L275.90 449.13L276.69 449.12L277.27 449.12L277.76 449.13L278.19 449.13L278.57 449.13L278.92 449.14L279.25 449.14L279.55 449.15L279.83 449.15L280.10 449.16L280.35 449.17L280.58 449.18L280.81 449.19L281.02 449.20L281.22 449.21L281.41 449.22L281.59 449.24L281.77 449.25L281.93 449.27L282.09 449.28L282.24 449.30L282.39 449.32L282.52 449.34L282.65 449.36L282.78 449.39L282.90 449.41L283.01 449.44L283.12 449.47L283.22 449.50L283.32 449.54L283.41 449.57L283.50 449.61L283.58 449.66L283.66 449.71L285.82 448.50L286.10 441.42L286.71 441.52L286.38 449.72L288.54 449.37L288.62 449.32L288.70 449.28L288.79 449.24L288.88 449.21L288.98 449.18L289.08 449.14L289.19 449.11L289.30 449.09L289.42 449.06L289.55 449.03L289.68 449.01L289.81 448.99L289.96 448.97L290.11 448.94L290.27 448.92L290.43 448.90L290.61 448.88L290.79 448.87L290.98 448.85L291.18 448.83L291.39 448.81L291.62 448.79L291.85 448.78L292.10 448.76L292.37 448.74L292.65 448.72L292.95 448.70L293.28 448.69L293.63 448.67L294.01 448.64L294.44 448.62L294.93 448.60L295.51 448.57L296.30 448.53L298.02 448.43L298.81 448.38L299.39 448.35L299.88 448.31L300.31 448.28L300.69 448.25L301.04 448.22L301.37 448.19L301.67 448.16L301.95 448.13L302.22 448.10L302.47 448.07L302.70 448.04L302.93 448.01L303.14 447.98L303.34 447.94L303.53 447.91L303.71 447.88L303.89 447.84L304.05 447.80L304.21 447.76L304.36 447.72L304.51 447.68L304.64 447.64L304.77 447.59L304.90 447.55L305.02 447.50L305.13 447.44L305.24 447.39L305.34 447.33L305.44 447.26L305.53 447.20L305.62 447.12L305.70 447.05L305.78 446.96L307.94 446.07L308.22 418.40L308.83 418.85L308.50 446.07L310.66 445.78L310.74 445.88L310.82 445.97L310.91 446.05L311.00 446.13L311.10 446.20L311.20 446.26L311.31 446.31L311.42 446.37L311.54 446.41L311.67 446.46L311.80 446.49L311.93 446.53L312.08 446.56L312.23 446.59L312.39 446.61L312.55 446.64L312.73 446.66L312.91 446.67L313.10 446.69L313.30 446.70L313.51 446.71L313.74 446.71L313.97 446.71L314.22 446.71L314.49 446.71L314.77 446.70L315.07 446.69L315.40 446.68L315.75 446.66L316.13 446.63L316.56 446.60L317.05 446.56L317.63 446.50L318.42 446.40L320.14 446.14L320.93 445.98L321.51 445.84L322.00 445.72L322.43 445.59L322.81 445.47L323.16 445.35L323.49 445.22L323.79 445.10L324.07 444.97L324.34 444.84L324.59 444.71L324.82 444.57L325.05 444.42L325.26 444.27L325.46 444.12L325.65 443.96L325.83 443.79L326.01 443.62L326.17 443.44L326.33 443.25L326.48 443.05L326.63 442.84L326.76 442.62L326.89 442.38L327.02 442.14L327.14 441.88L327.25 441.60L327.36 441.30L327.46 440.99L327.56 440.65L327.65 440.29L327.74 439.89L327.82 439.47L327.90 439.01L330.06 435.94L328.35 421.91L330.23 421.91L330.34 350.81L330.95 352.27L331.00 398.00L332.33 398.00L330.62 435.94L332.78 436.24L332.86 436.74L332.94 437.19L333.03 437.60L333.12 437.98L333.22 438.33L333.32 438.66L333.43 438.95L333.54 439.23L333.66 439.48L333.79 439.72L333.92 439.93L334.05 440.14L334.20 440.32L334.35 440.50L334.51 440.66L334.67 440.80L334.85 440.94L335.03 441.07L335.22 441.18L335.42 441.28L335.63 441.38L335.86 441.46L336.09 441.54L336.34 441.61L336.61 441.66L336.89 441.71L337.19 441.75L337.52 441.77L337.87 441.78L338.25 441.78L338.68 441.76L339.17 441.72L339.75 441.64L340.54 441.49L342.26 440.98L343.05 440.65L343.63 440.36L344.12 440.08L344.55 439.80L344.93 439.53L345.28 439.25L345.61 438.96L345.91 438.67L346.19 438.37L346.46 438.06L346.71 437.74L346.94 437.41L347.17 437.07L347.38 436.71L347.58 436.34L347.77 435.95L347.95 435.54L348.13 435.12L348.29 434.68L348.45 434.21L348.60 433.72L348.75 433.20L348.88 432.65L349.01 432.07L349.14 431.45L349.26 430.80L349.37 430.10L349.48 429.36L349.58 428.57L349.68 427.72L349.77 426.80L349.86 425.81L349.94 424.74L350.02 423.57L352.18 417.18L352.46 227.15L353.07 230.47L353.12 282.60L354.45 282.60L352.74 417.18L354.90 419.39L354.98 420.61L355.06 421.73L355.15 422.76L355.24 423.70L355.34 424.57L355.44 425.38L355.55 426.12L355.66 426.81L355.78 427.46L355.91 428.05L356.04 428.61L356.17 429.13L356.32 429.62L356.47 430.07L356.63 430.49L356.79 430.89L356.97 431.26L357.15 431.60L357.34 431.92L357.54 432.22L357.75 432.50L357.98 432.76L358.21 433.00L358.46 433.22L358.73 433.42L359.01 433.60L359.31 433.76L359.64 433.90L359.99 434.02L360.37 434.12L360.80 434.19L361.29 434.22L361.87 434.21L362.66 434.10L364.38 433.51L365.17 433.06L365.75 432.65L366.24 432.25L366.67 431.84L367.05 431.43L367.40 431.00L367.73 430.56L368.03 430.11L368.31 429.63L368.58 429.15L368.83 428.64L369.06 428.11L369.29 427.55L369.50 426.98L369.70 426.37L369.89 425.74L370.07 425.08L370.25 424.38L370.41 423.64L370.57 422.87L370.72 422.06L370.87 421.19L371.00 420.28L371.13 419.31L371.26 418.28L371.38 417.18L371.49 416.01L371.60 414.76L371.70 413.42L371.80 411.98L371.89 410.43L371.98 408.75L372.06 406.92L372.14 404.94L374.30 395.92L374.58 96.40L375.19 101.68L375.24 135.92L376.57 135.92L374.86 395.92L377.04 401.52L377.12 403.55L377.21 405.41L377.30 407.12L377.39 408.69L377.49 410.15L377.59 411.50L377.70 412.75L377.82 413.92L377.94 415.01L378.07 416.02L378.20 416.97L378.34 417.86L378.49 418.70L378.64 419.48L378.80 420.22L378.97 420.91L379.15 421.56L379.34 422.18L379.54 422.76L379.74 423.30L379.96 423.82L380.19 424.30L380.43 424.75L380.69 425.18L380.96 425.58L381.25 425.96L381.55 426.31L381.89 426.63L382.25 426.93L382.64 427.21L383.08 427.45L383.57 427.66L384.17 427.83L384.98 427.93L386.74 427.65L387.55 427.30L388.15 426.93L388.65 426.55L389.08 426.15L389.48 425.73L389.84 425.29L390.17 424.83L390.48 424.34L390.76 423.83L391.04 423.30L391.29 422.73L391.53 422.15L391.76 421.53L391.98 420.87L392.19 420.19L392.38 419.47L392.57 418.70L392.75 417.90L392.92 417.05L393.08 416.15L393.23 415.20L393.38 414.19L393.52 413.12L393.65 411.98L393.78 410.77L393.90 409.47L394.02 408.09L394.13 406.60L394.23 405.00L394.33 403.28L394.43 401.43L394.52 399.42L394.60 397.24L394.68 394.86L396.87 386.19L395.48 378.82L397.03 378.82L396.31 57.44L397.14 53.90L397.97 57.44L397.42 386.19L399.57 394.94L399.64 397.31L399.72 399.49L399.81 401.50L399.90 403.36L399.99 405.08L400.09 406.67L400.20 408.16L400.31 409.54L400.42 410.84L400.55 412.05L400.67 413.19L400.81 414.26L400.95 415.27L401.09 416.22L401.25 417.12L401.41 417.97L401.58 418.77L401.76 419.54L401.95 420.26L402.14 420.94L402.35 421.60L402.57 422.22L402.80 422.81L403.04 423.37L403.30 423.90L403.58 424.41L403.87 424.90L404.19 425.36L404.53 425.80L404.91 426.22L405.32 426.62L405.80 427.00L406.37 427.37L407.14 427.72L408.82 427.99L409.59 427.90L410.16 427.73L410.64 427.51L411.06 427.27L411.43 426.99L411.77 426.69L412.09 426.37L412.38 426.01L412.66 425.64L412.92 425.24L413.16 424.81L413.39 424.35L413.61 423.86L413.82 423.35L414.02 422.80L414.20 422.22L414.38 421.61L414.55 420.95L414.71 420.26L414.87 419.52L415.01 418.74L415.15 417.90L415.29 417.01L415.42 416.06L415.54 415.04L415.65 413.95L415.76 412.78L415.87 411.53L415.97 410.18L416.06 408.72L416.15 407.15L416.24 405.44L416.32 403.58L416.39 401.55L418.54 395.92L418.82 95.81L419.43 101.10L419.48 123.82L420.81 123.82L419.10 395.92L421.26 404.94L421.34 406.92L421.42 408.75L421.51 410.43L421.60 411.98L421.70 413.42L421.80 414.76L421.91 416.01L422.02 417.18L422.14 418.28L422.27 419.31L422.40 420.28L422.53 421.19L422.68 422.06L422.83 422.87L422.99 423.64L423.15 424.38L423.33 425.08L423.51 425.74L423.70 426.37L423.90 426.98L424.11 427.55L424.34 428.11L424.57 428.64L424.82 429.15L425.09 429.63L425.37 430.11L425.67 430.56L426.00 431.00L426.35 431.43L426.73 431.84L427.16 432.25L427.65 432.65L428.23 433.06L429.02 433.51L430.74 434.10L431.53 434.21L432.11 434.22L432.60 434.19L433.03 434.12L433.41 434.02L433.76 433.90L434.09 433.76L434.39 433.60L434.67 433.42L434.94 433.22L435.19 433.00L435.42 432.76L435.65 432.50L435.86 432.22L436.06 431.92L436.25 431.60L436.43 431.26L436.61 430.89L436.77 430.49L436.93 430.07L437.08 429.62L437.23 429.13L437.36 428.61L437.49 428.05L437.62 427.46L437.74 426.81L437.85 426.12L437.96 425.38L438.06 424.57L438.16 423.70L438.25 422.76L438.34 421.73L438.42 420.61L438.50 419.39L440.66 417.18L440.94 227.15L441.55 230.47L441.60 243.05L442.93 243.05L441.22 417.18L443.38 423.57L443.46 424.74L443.54 425.81L443.63 426.80L443.72 427.72L443.82 428.57L443.92 429.36L444.03 430.10L444.14 430.80L444.26 431.45L444.39 432.07L444.52 432.65L444.65 433.20L444.80 433.72L444.95 434.21L445.11 434.68L445.27 435.12L445.45 435.54L445.63 435.95L445.82 436.34L446.02 436.71L446.23 437.07L446.46 437.41L446.69 437.74L446.94 438.06L447.21 438.37L447.49 438.67L447.79 438.96L448.12 439.25L448.47 439.53L448.85 439.80L449.28 440.08L449.77 440.36L450.35 440.65L451.14 440.98L452.86 441.49L453.65 441.64L454.23 441.72L454.72 441.76L455.15 441.78L455.53 441.78L455.88 441.77L456.21 441.75L456.51 441.71L456.79 441.66L457.06 441.61L457.31 441.54L457.54 441.46L457.77 441.38L457.98 441.28L458.18 441.18L458.37 441.07L458.55 440.94L458.73 440.80L458.89 440.66L459.05 440.50L459.20 440.32L459.35 440.14L459.48 439.93L459.61 439.72L459.74 439.48L459.86 439.23L459.97 438.95L460.08 438.66L460.18 438.33L460.28 437.98L460.37 437.60L460.46 437.19L460.54 436.74L460.62 436.24L462.78 435.94L463.06 350.22L464.72 351.69L463.34 435.94L465.50 439.01L465.58 439.47L465.66 439.89L465.75 440.29L465.84 440.65L465.94 440.99L466.04 441.30L466.15 441.60L466.26 441.88L466.38 442.14L466.51 442.38L466.64 442.62L466.77 442.84L466.92 443.05L467.07 443.25L467.23 443.44L467.39 443.62L467.57 443.79L467.75 443.96L467.94 444.12L468.14 444.27L468.35 444.42L468.58 444.57L468.81 444.71L469.06 444.84L469.33 444.97L469.61 445.10L469.91 445.22L470.24 445.35L470.59 445.47L470.97 445.59L471.40 445.72L471.89 445.84L472.47 445.98L473.26 446.14L474.98 446.40L475.77 446.50L476.35 446.56L476.84 446.60L477.27 446.63L477.65 446.66L478.00 446.68L478.33 446.69L478.63 446.70L478.91 446.71L479.18 446.71L479.43 446.71L479.66 446.71L479.89 446.71L480.10 446.70L480.30 446.69L480.49 446.67L480.67 446.66L480.85 446.64L481.01 446.61L481.17 446.59L481.32 446.56L481.47 446.53L481.60 446.49L481.73 446.46L481.86 446.41L481.98 446.37L482.09 446.31L482.20 446.26L482.30 446.20L482.40 446.13L482.49 446.05L482.58 445.97L482.66 445.88L482.74 445.78L484.90 446.07L485.18 418.40L486.56 418.85L485.46 446.07L487.62 446.96L487.70 447.05L487.78 447.12L487.87 447.20L487.96 447.26L488.06 447.33L488.16 447.39L488.27 447.44L488.38 447.50L488.50 447.55L488.63 447.59L488.76 447.64L488.89 447.68L489.04 447.72L489.19 447.76L489.35 447.80L489.51 447.84L489.69 447.88L489.87 447.91L490.06 447.94L490.26 447.98L490.47 448.01L490.70 448.04L490.93 448.07L491.18 448.10L491.45 448.13L491.73 448.16L492.03 448.19L492.36 448.22L492.71 448.25L493.09 448.28L493.52 448.31L494.01 448.35L494.59 448.38L495.38 448.43L497.10 448.53L497.89 448.57L498.47 448.60L498.96 448.62L499.39 448.64L499.77 448.67L500.12 448.69L500.45 448.70L500.75 448.72L501.03 448.74L501.30 448.76L501.55 448.78L501.78 448.79L502.01 448.81L502.22 448.83L502.42 448.85L502.61 448.87L502.79 448.88L502.97 448.90L503.13 448.92L503.29 448.94L503.44 448.97L503.59 448.99L503.72 449.01L503.85 449.03L503.98 449.06L504.10 449.09L504.21 449.11L504.32 449.14L504.42 449.18L504.52 449.21L504.61 449.24L504.70 449.28L504.78 449.32L504.86 449.37L507.02 448.50L507.30 441.71L507.91 441.81L507.58 449.72L509.74 449.71L509.82 449.66L509.90 449.61L509.99 449.57L510.08 449.54L510.18 449.50L510.28 449.47L510.39 449.44L510.50 449.41L510.62 449.39L510.75 449.36L510.88 449.34L511.01 449.32L511.16 449.30L511.31 449.28L511.47 449.27L511.63 449.25L511.81 449.24L511.99 449.22L512.18 449.21L512.38 449.20L512.59 449.19L512.82 449.18L513.05 449.17L513.30 449.16L513.57 449.15L513.85 449.15L514.15 449.14L514.48 449.14L514.83 449.13L515.21 449.13L515.64 449.13L516.13 449.12L516.71 449.12L517.50 449.13L519.22 449.15L520.01 449.17L520.59 449.18L521.08 449.20L521.51 449.21L521.89 449.23L522.24 449.25L522.57 449.27L522.87 449.28L523.15 449.30L523.42 449.32L523.67 449.34L523.90 449.36L524.13 449.38L524.34 449.41L524.54 449.43L524.73 449.46L524.91 449.48L525.09 449.51L525.25 449.54L525.41 449.57L525.56 449.60L525.71 449.64L525.84 449.68L525.97 449.71L526.10 449.76L526.22 449.80L526.33 449.85L526.44 449.90L526.54 449.95L526.64 450.01L526.73 450.08L526.82 450.14L526.90 450.22L526.98 450.30L529.14 448.50L529.42 447.91L530.03 447.92L529.70 450.63L531.86 450.37L531.94 450.29L532.02 450.21L532.11 450.14L532.20 450.08L532.30 450.02L532.40 449.96L532.51 449.91L532.62 449.87L532.74 449.82L532.87 449.78L533.00 449.74L533.13 449.71L533.28 449.67L533.43 449.64L533.59 449.61L533.75 449.58L533.93 449.55L534.11 449.53L534.30 449.50L534.50 449.48L534.71 449.46L534.94 449.44L535.17 449.42L535.42 449.40L535.69 449.39L535.97 449.37L536.27 449.35L536.60 449.34L536.95 449.33L537.33 449.31L537.76 449.30L538.25 449.29L538.83 449.28L539.62 449.28L540.48 449.27L541.59 449.28L542.69 449.28L543.80 449.28L544.90 449.28L546.01 449.28L547.12 449.29L548.22 449.29L549.33 449.29L550.43 449.29L551.54 449.29L552.65 449.29L553.75 449.29L554.86 449.29L555.96 449.29L557.07 449.29L558.18 449.29L559.28 449.29L560.39 449.29L561.49 449.29L562.60 449.29L563.71 449.29L564.81 449.30L565.92 449.30L567.02 449.30L568.13 449.30L569.24 449.30L570.34 449.30L571.45 449.30L572.55 449.30L573.66 449.30L574.77 449.30L575.87 449.30L576.98 449.30L578.08 449.30L579.19 449.30L580.30 449.30L581.40 449.30L582.51 449.30L583.61 449.30L584.72 449.30L585.83 449.30L586.93 449.30L588.04 449.30L589.14 449.30L590.25 449.30L591.36 449.30L592.46 449.30L593.57 449.30L594.67 449.30L595.78 449.30L596.89 449.30L597.99 449.30L599.10 449.30L600.20 449.30L601.31 449.30L602.42 449.30L603.52 449.30L604.63 449.30L605.73 449.30L606.84 449.30L607.95 449.30L609.05 449.30L610.16 449.30L611.26 449.30L612.37 449.30L613.48 449.30L614.58 449.30L615.69 449.30L616.79 449.30L617.90 449.30" fill="none" stroke="#ff7f00" stroke-width="2.3" stroke-linejoin="bevel" stroke-linecap="butt"/><line x1="429.20" y1="56.30" x2="489.00" y2="56.30" stroke="#ff0000" stroke-width="2.6" stroke-linecap="round"/><text transform="translate(495 66.0) scale(1 1.03)" font-family="Liberation Sans, Arial, sans-serif" font-size="26.5">I=1*10<tspan font-size="18.5" dy="-11.4">17</tspan><tspan dy="11.4" letter-spacing="-0.45">W/cm</tspan><tspan font-size="18.5" dy="-11.4">2</tspan></text><line x1="429.20" y1="92.30" x2="489.00" y2="92.30" stroke="#0000ff" stroke-width="2.6" stroke-linecap="round"/><text transform="translate(495 102.0) scale(1 1.03)" font-family="Liberation Sans, Arial, sans-serif" font-size="26.5">I=1*10<tspan font-size="18.5" dy="-11.4">19</tspan><tspan dy="11.4" letter-spacing="-0.45">W/cm</tspan><tspan font-size="18.5" dy="-11.4">2</tspan></text><line x1="429.20" y1="128.30" x2="489.00" y2="128.30" stroke="#ff7f00" stroke-width="2.6" stroke-linecap="round"/><text transform="translate(495 138.0) scale(1 1.03)" font-family="Liberation Sans, Arial, sans-serif" font-size="26.5">I=1*10<tspan font-size="18.5" dy="-11.4">20</tspan><tspan dy="11.4" letter-spacing="-0.45">W/cm</tspan><tspan font-size="18.5" dy="-11.4">2</tspan></text><text x="111.20" y="28.60" font-family="Liberation Serif, Times New Roman, serif" font-size="24">&#215;</text><text transform="translate(125.20 27.40) scale(0.82 1)" font-family="Liberation Serif, Times New Roman, serif" font-size="28">1</text><text x="140.40" y="27.40" font-family="Liberation Serif, Times New Roman, serif" font-size="28">0</text><text transform="translate(154.2 15.2) scale(0.92 1)" font-family="Liberation Serif, Times New Roman, serif" font-size="20">25</text><text x="649" y="19.5" font-family="Liberation Sans, Arial, sans-serif" font-size="26" font-weight="bold">a)</text><text transform="translate(25.8 264) rotate(-90)" font-family="Liberation Sans, Arial, sans-serif" font-size="28.5" text-anchor="middle">density(m<tspan font-size="19" dy="-13">3</tspan><tspan dy="13">)</tspan></text><text x="396.4" y="594.5" font-family="Liberation Sans, Arial, sans-serif" font-size="28" text-anchor="middle" letter-spacing="0.5">x(&#956;m<tspan dx="1.6">)</tspan></text><rect x="817.40" y="35.30" width="581.60" height="468.70" fill="none" stroke="#1a1a1a" stroke-width="1.85"/><line x1="817.40" y1="504.00" x2="817.40" y2="508.20" stroke="#1a1a1a" stroke-width="1.8"/><line x1="876.00" y1="504.00" x2="876.00" y2="512.70" stroke="#1a1a1a" stroke-width="1.8"/><text transform="translate(874.80 540.20) scale(1 1.04)" font-family="Liberation Sans, Arial, sans-serif" font-size="28" text-anchor="middle">-4</text><line x1="934.20" y1="504.00" x2="934.20" y2="508.20" stroke="#1a1a1a" stroke-width="1.8"/><line x1="992.40" y1="504.00" x2="992.40" y2="512.70" stroke="#1a1a1a" stroke-width="1.8"/><text transform="translate(991.20 540.20) scale(1 1.04)" font-family="Liberation Sans, Arial, sans-serif" font-size="28" text-anchor="middle">-2</text><line x1="1050.60" y1="504.00" x2="1050.60" y2="508.20" stroke="#1a1a1a" stroke-width="1.8"/><line x1="1108.80" y1="504.00" x2="1108.80" y2="512.70" stroke="#1a1a1a" stroke-width="1.8"/><text transform="translate(1108.40 540.20) scale(1 1.04)" font-family="Liberation Sans, Arial, sans-serif" font-size="28" text-anchor="middle">0</text><line x1="1167.00" y1="504.00" x2="1167.00" y2="508.20" stroke="#1a1a1a" stroke-width="1.8"/><line x1="1225.20" y1="504.00" x2="1225.20" y2="512.70" stroke="#1a1a1a" stroke-width="1.8"/><text transform="translate(1224.80 540.20) scale(1 1.04)" font-family="Liberation Sans, Arial, sans-serif" font-size="28" text-anchor="middle">2</text><line x1="1283.40" y1="504.00" x2="1283.40" y2="508.20" stroke="#1a1a1a" stroke-width="1.8"/><line x1="1341.60" y1="504.00" x2="1341.60" y2="512.70" stroke="#1a1a1a" stroke-width="1.8"/><text transform="translate(1341.20 540.20) scale(1 1.04)" font-family="Liberation Sans, Arial, sans-serif" font-size="28" text-anchor="middle">4</text><line x1="1399.00" y1="504.00" x2="1399.00" y2="508.20" stroke="#1a1a1a" stroke-width="1.8"/><line x1="817.40" y1="503.18" x2="808.40" y2="503.18" stroke="#1a1a1a" stroke-width="1.8"/><text transform="translate(802.50 510.28) scale(1 1.04)" font-family="Liberation Sans, Arial, sans-serif" font-size="28" text-anchor="end" letter-spacing="0.4">-0.2</text><line x1="817.40" y1="477.19" x2="813.60" y2="477.19" stroke="#1a1a1a" stroke-width="1.8"/><line x1="817.40" y1="451.20" x2="808.40" y2="451.20" stroke="#1a1a1a" stroke-width="1.8"/><text transform="translate(802.50 458.30) scale(1 1.04)" font-family="Liberation Sans, Arial, sans-serif" font-size="28" text-anchor="end" letter-spacing="0.4">0.0</text><line x1="817.40" y1="425.21" x2="813.60" y2="425.21" stroke="#1a1a1a" stroke-width="1.8"/><line x1="817.40" y1="399.22" x2="808.40" y2="399.22" stroke="#1a1a1a" stroke-width="1.8"/><text transform="translate(802.50 406.32) scale(1 1.04)" font-family="Liberation Sans, Arial, sans-serif" font-size="28" text-anchor="end" letter-spacing="0.4">0.2</text><line x1="817.40" y1="373.23" x2="813.60" y2="373.23" stroke="#1a1a1a" stroke-width="1.8"/><line x1="817.40" y1="347.24" x2="808.40" y2="347.24" stroke="#1a1a1a" stroke-width="1.8"/><text transform="translate(802.50 354.34) scale(1 1.04)" font-family="Liberation Sans, Arial, sans-serif" font-size="28" text-anchor="end" letter-spacing="0.4">0.4</text><line x1="817.40" y1="321.25" x2="813.60" y2="321.25" stroke="#1a1a1a" stroke-width="1.8"/><line x1="817.40" y1="295.26" x2="808.40" y2="295.26" stroke="#1a1a1a" stroke-width="1.8"/><text transform="translate(802.50 302.36) scale(1 1.04)" font-family="Liberation Sans, Arial, sans-serif" font-size="28" text-anchor="end" letter-spacing="0.4">0.6</text><line x1="817.40" y1="269.27" x2="813.60" y2="269.27" stroke="#1a1a1a" stroke-width="1.8"/><line x1="817.40" y1="243.28" x2="808.40" y2="243.28" stroke="#1a1a1a" stroke-width="1.8"/><text transform="translate(802.50 250.38) scale(1 1.04)" font-family="Liberation Sans, Arial, sans-serif" font-size="28" text-anchor="end" letter-spacing="0.4">0.8</text><line x1="817.40" y1="217.29" x2="813.60" y2="217.29" stroke="#1a1a1a" stroke-width="1.8"/><line x1="817.40" y1="191.30" x2="808.40" y2="191.30" stroke="#1a1a1a" stroke-width="1.8"/><text transform="translate(802.50 198.40) scale(1 1.04)" font-family="Liberation Sans, Arial, sans-serif" font-size="28" text-anchor="end" letter-spacing="0.4">1.0</text><line x1="817.40" y1="165.31" x2="813.60" y2="165.31" stroke="#1a1a1a" stroke-width="1.8"/><line x1="817.40" y1="139.32" x2="808.40" y2="139.32" stroke="#1a1a1a" stroke-width="1.8"/><text transform="translate(802.50 146.42) scale(1 1.04)" font-family="Liberation Sans, Arial, sans-serif" font-size="28" text-anchor="end" letter-spacing="0.4">1.2</text><line x1="817.40" y1="113.33" x2="813.60" y2="113.33" stroke="#1a1a1a" stroke-width="1.8"/><line x1="817.40" y1="87.34" x2="808.40" y2="87.34" stroke="#1a1a1a" stroke-width="1.8"/><text transform="translate(802.50 94.44) scale(1 1.04)" font-family="Liberation Sans, Arial, sans-serif" font-size="28" text-anchor="end" letter-spacing="0.4">1.4</text><line x1="817.40" y1="61.35" x2="813.60" y2="61.35" stroke="#1a1a1a" stroke-width="1.8"/><line x1="817.40" y1="35.36" x2="808.40" y2="35.36" stroke="#1a1a1a" stroke-width="1.8"/><text transform="translate(802.50 42.46) scale(1 1.04)" font-family="Liberation Sans, Arial, sans-serif" font-size="28" text-anchor="end" letter-spacing="0.4">1.6</text><path d="M876.20 451.20L877.36 451.20L878.53 451.20L879.69 451.20L880.86 451.20L882.02 451.20L883.18 451.20L884.35 451.20L885.51 451.20L886.68 451.20L887.84 451.20L889.00 451.20L890.17 451.20L891.33 451.20L892.50 451.20L893.66 451.20L894.82 451.20L895.99 451.20L897.15 451.20L898.32 451.20L899.48 451.20L900.64 451.20L901.81 451.20L902.97 451.20L904.14 451.20L905.30 451.20L906.46 451.20L907.63 451.20L908.79 451.20L909.96 451.20L911.12 451.20L912.28 451.20L913.45 451.20L914.61 451.20L915.78 451.20L916.94 451.20L918.10 451.20L919.27 451.20L920.43 451.20L921.60 451.20L922.76 451.20L923.92 451.20L925.09 451.20L926.25 451.20L927.42 451.20L928.58 451.20L929.74 451.20L930.91 451.20L932.07 451.20L933.24 451.20L934.40 451.20L935.56 451.20L936.73 451.20L937.89 451.20L939.06 451.20L940.22 451.20L941.38 451.20L942.55 451.20L943.71 451.20L944.88 451.19L946.04 451.19L947.20 451.19L948.37 451.19L949.53 451.19L950.70 451.19L951.86 451.19L953.02 451.19L954.19 451.19L955.35 451.19L956.52 451.18L957.68 451.18L958.53 451.18L959.32 451.18L959.91 451.18L960.39 451.18L960.82 451.17L961.21 451.17L961.57 451.17L961.89 451.17L962.20 451.17L962.49 451.17L962.77 451.17L963.03 451.17L963.27 451.16L963.51 451.16L963.73 451.16L963.95 451.16L964.15 451.16L964.35 451.16L964.54 451.16L964.72 451.15L964.89 451.15L965.06 451.15L965.22 451.15L965.37 451.15L965.52 451.15L965.67 451.14L965.80 451.14L965.94 451.14L966.07 451.14L966.19 451.14L966.31 451.13L966.42 451.13L966.53 451.13L966.63 451.13L966.74 451.12L969.03 451.10L969.32 449.12L969.55 449.15L969.61 451.10L971.90 451.08L972.01 451.08L972.11 451.08L972.22 451.09L972.33 451.09L972.45 451.09L972.57 451.09L972.70 451.09L972.84 451.09L972.97 451.10L973.12 451.10L973.27 451.10L973.42 451.10L973.58 451.10L973.75 451.10L973.92 451.10L974.10 451.10L974.29 451.10L974.49 451.10L974.69 451.10L974.91 451.10L975.13 451.10L975.37 451.10L975.61 451.10L975.87 451.10L976.15 451.10L976.44 451.10L976.75 451.10L977.07 451.10L977.43 451.10L977.82 451.09L978.25 451.09L978.73 451.09L979.32 451.08L980.11 451.08L981.81 451.06L982.60 451.05L983.19 451.04L983.67 451.03L984.10 451.03L984.49 451.02L984.85 451.01L985.17 451.00L985.48 451.00L985.77 450.99L986.05 450.98L986.31 450.97L986.55 450.97L986.79 450.96L987.01 450.95L987.23 450.94L987.43 450.93L987.63 450.92L987.82 450.92L988.00 450.91L988.17 450.90L988.34 450.89L988.50 450.88L988.65 450.86L988.80 450.85L988.95 450.84L989.08 450.83L989.22 450.82L989.35 450.80L989.47 450.79L989.59 450.78L989.70 450.76L989.81 450.75L989.91 450.73L990.02 450.71L992.31 450.59L992.60 442.36L992.83 442.50L992.89 450.59L995.18 450.50L995.29 450.52L995.39 450.53L995.50 450.54L995.61 450.55L995.73 450.57L995.85 450.58L995.98 450.59L996.12 450.59L996.25 450.60L996.40 450.61L996.55 450.62L996.70 450.62L996.86 450.63L997.03 450.63L997.20 450.64L997.38 450.64L997.57 450.65L997.77 450.65L997.97 450.65L998.19 450.65L998.41 450.65L998.65 450.65L998.89 450.65L999.15 450.65L999.43 450.65L999.72 450.65L1000.03 450.65L1000.35 450.64L1000.71 450.64L1001.10 450.63L1001.53 450.62L1002.01 450.61L1002.60 450.59L1003.39 450.57L1005.09 450.49L1005.88 450.45L1006.47 450.42L1006.95 450.38L1007.38 450.35L1007.77 450.32L1008.13 450.29L1008.45 450.26L1008.76 450.23L1009.05 450.19L1009.33 450.16L1009.59 450.13L1009.83 450.10L1010.07 450.06L1010.29 450.03L1010.51 449.99L1010.71 449.95L1010.91 449.91L1011.10 449.88L1011.28 449.84L1011.45 449.79L1011.62 449.75L1011.78 449.71L1011.93 449.66L1012.08 449.61L1012.23 449.56L1012.36 449.51L1012.50 449.46L1012.63 449.40L1012.75 449.34L1012.87 449.28L1012.98 449.22L1013.09 449.15L1013.19 449.08L1013.30 449.01L1015.59 448.53L1014.37 424.51L1015.76 424.51L1015.88 417.41L1017.34 417.92L1016.17 448.53L1018.46 448.27L1018.57 448.34L1018.67 448.40L1018.78 448.46L1018.89 448.51L1019.01 448.56L1019.13 448.61L1019.26 448.65L1019.40 448.69L1019.53 448.73L1019.68 448.77L1019.83 448.80L1019.98 448.83L1020.14 448.86L1020.31 448.89L1020.48 448.91L1020.66 448.93L1020.85 448.95L1021.05 448.97L1021.25 448.99L1021.47 449.00L1021.69 449.01L1021.93 449.02L1022.17 449.03L1022.43 449.03L1022.71 449.04L1023.00 449.04L1023.31 449.03L1023.63 449.02L1023.99 449.01L1024.38 449.00L1024.81 448.98L1025.29 448.95L1025.88 448.90L1026.67 448.83L1028.37 448.62L1029.16 448.50L1029.75 448.40L1030.23 448.30L1030.66 448.20L1031.05 448.11L1031.41 448.01L1031.73 447.92L1032.04 447.83L1032.33 447.73L1032.61 447.63L1032.87 447.53L1033.11 447.43L1033.35 447.32L1033.57 447.22L1033.79 447.11L1033.99 446.99L1034.19 446.88L1034.38 446.76L1034.56 446.63L1034.73 446.51L1034.90 446.37L1035.06 446.24L1035.21 446.10L1035.36 445.95L1035.51 445.80L1035.64 445.64L1035.78 445.47L1035.91 445.30L1036.03 445.12L1036.15 444.93L1036.26 444.73L1036.37 444.53L1036.47 444.31L1036.58 444.08L1038.87 442.83L1037.65 360.83L1039.04 360.83L1039.16 347.50L1039.39 349.06L1039.45 442.83L1041.74 442.35L1041.85 442.56L1041.95 442.76L1042.06 442.95L1042.17 443.12L1042.29 443.28L1042.41 443.44L1042.54 443.59L1042.68 443.72L1042.81 443.85L1042.96 443.97L1043.11 444.09L1043.26 444.19L1043.42 444.29L1043.59 444.39L1043.76 444.47L1043.94 444.56L1044.13 444.63L1044.33 444.70L1044.53 444.77L1044.75 444.83L1044.97 444.88L1045.21 444.93L1045.45 444.97L1045.71 445.00L1045.99 445.03L1046.28 445.06L1046.59 445.07L1046.91 445.08L1047.27 445.08L1047.66 445.07L1048.09 445.05L1048.57 445.01L1049.16 444.94L1049.95 444.82L1051.65 444.42L1052.44 444.17L1053.03 443.96L1053.51 443.76L1053.94 443.56L1054.33 443.36L1054.69 443.17L1055.01 442.97L1055.32 442.76L1055.61 442.56L1055.89 442.35L1056.15 442.13L1056.39 441.91L1056.63 441.69L1056.85 441.46L1057.07 441.22L1057.27 440.97L1057.47 440.72L1057.66 440.45L1057.84 440.18L1058.01 439.90L1058.18 439.61L1058.34 439.31L1058.49 439.00L1058.64 438.67L1058.79 438.33L1058.92 437.98L1059.06 437.61L1059.19 437.23L1059.31 436.83L1059.43 436.40L1059.54 435.96L1059.65 435.50L1059.75 435.01L1059.86 434.50L1062.15 432.26L1060.93 236.86L1062.32 236.86L1062.44 230.54L1062.67 233.85L1062.73 432.26L1065.02 431.90L1065.13 432.38L1065.23 432.84L1065.34 433.27L1065.45 433.68L1065.57 434.06L1065.69 434.43L1065.82 434.77L1065.96 435.10L1066.09 435.41L1066.24 435.70L1066.39 435.97L1066.54 436.24L1066.70 436.48L1066.87 436.72L1067.04 436.94L1067.22 437.15L1067.41 437.34L1067.61 437.53L1067.81 437.70L1068.03 437.87L1068.25 438.02L1068.49 438.16L1068.73 438.29L1068.99 438.41L1069.27 438.52L1069.56 438.62L1069.87 438.71L1070.19 438.79L1070.55 438.85L1070.94 438.89L1071.37 438.92L1071.85 438.92L1072.44 438.89L1073.23 438.79L1074.93 438.33L1075.72 438.01L1076.31 437.72L1076.79 437.44L1077.22 437.15L1077.61 436.87L1077.97 436.58L1078.29 436.29L1078.60 435.99L1078.89 435.68L1079.17 435.36L1079.43 435.04L1079.67 434.70L1079.91 434.36L1080.13 434.00L1080.35 433.63L1080.55 433.25L1080.75 432.86L1080.94 432.45L1081.12 432.02L1081.29 431.58L1081.46 431.12L1081.62 430.65L1081.77 430.15L1081.92 429.64L1082.07 429.10L1082.20 428.54L1082.34 427.95L1082.47 427.33L1082.59 426.69L1082.71 426.01L1082.82 425.30L1082.93 424.56L1083.03 423.77L1083.14 422.94L1085.43 420.29L1085.72 106.57L1085.95 111.74L1086.01 186.44L1087.23 186.44L1086.01 420.29L1088.30 420.82L1088.41 421.62L1088.51 422.39L1088.62 423.11L1088.73 423.79L1088.85 424.44L1088.97 425.05L1089.10 425.63L1089.24 426.19L1089.37 426.71L1089.52 427.21L1089.67 427.69L1089.82 428.14L1089.98 428.58L1090.15 428.99L1090.32 429.38L1090.50 429.75L1090.69 430.11L1090.89 430.45L1091.09 430.77L1091.31 431.08L1091.53 431.37L1091.77 431.65L1092.01 431.92L1092.27 432.17L1092.55 432.40L1092.84 432.63L1093.15 432.83L1093.47 433.03L1093.83 433.21L1094.22 433.37L1094.65 433.52L1095.13 433.64L1095.72 433.74L1096.51 433.79L1098.21 433.58L1099.00 433.33L1099.59 433.09L1100.07 432.83L1100.50 432.57L1100.89 432.30L1101.25 432.01L1101.57 431.72L1101.88 431.41L1102.17 431.09L1102.45 430.76L1102.71 430.41L1102.95 430.06L1103.19 429.69L1103.41 429.30L1103.63 428.90L1103.83 428.48L1104.03 428.04L1104.22 427.59L1104.40 427.12L1104.57 426.62L1104.74 426.11L1104.90 425.57L1105.05 425.01L1105.20 424.42L1105.35 423.81L1105.48 423.17L1105.62 422.49L1105.75 421.79L1105.87 421.04L1105.99 420.26L1106.10 419.44L1106.21 418.58L1106.31 417.67L1106.42 416.70L1108.71 414.81L1107.49 251.15L1108.88 251.15L1109.00 59.79L1109.23 65.66L1109.29 265.19L1110.51 265.19L1109.29 414.81L1111.58 416.70L1111.69 417.67L1111.79 418.58L1111.90 419.44L1112.01 420.26L1112.13 421.04L1112.25 421.79L1112.38 422.49L1112.52 423.17L1112.65 423.81L1112.80 424.42L1112.95 425.01L1113.10 425.57L1113.26 426.11L1113.43 426.62L1113.60 427.12L1113.78 427.59L1113.97 428.04L1114.17 428.48L1114.37 428.90L1114.59 429.30L1114.81 429.69L1115.05 430.06L1115.29 430.41L1115.55 430.76L1115.83 431.09L1116.12 431.41L1116.43 431.72L1116.75 432.01L1117.11 432.30L1117.50 432.57L1117.93 432.83L1118.41 433.09L1119.00 433.33L1119.79 433.58L1121.49 433.79L1122.28 433.74L1122.87 433.64L1123.35 433.52L1123.78 433.37L1124.17 433.21L1124.53 433.03L1124.85 432.83L1125.16 432.63L1125.45 432.40L1125.73 432.17L1125.99 431.92L1126.23 431.65L1126.47 431.37L1126.69 431.08L1126.91 430.77L1127.11 430.45L1127.31 430.11L1127.50 429.75L1127.68 429.38L1127.85 428.99L1128.02 428.58L1128.18 428.14L1128.33 427.69L1128.48 427.21L1128.63 426.71L1128.76 426.19L1128.90 425.63L1129.03 425.05L1129.15 424.44L1129.27 423.79L1129.38 423.11L1129.49 422.39L1129.59 421.62L1129.70 420.82L1131.99 420.29L1130.77 148.49L1132.16 148.49L1132.28 106.57L1132.51 111.74L1132.57 420.29L1134.86 422.94L1134.97 423.77L1135.07 424.56L1135.18 425.30L1135.29 426.01L1135.41 426.69L1135.53 427.33L1135.66 427.95L1135.80 428.54L1135.93 429.10L1136.08 429.64L1136.23 430.15L1136.38 430.65L1136.54 431.12L1136.71 431.58L1136.88 432.02L1137.06 432.45L1137.25 432.86L1137.45 433.25L1137.65 433.63L1137.87 434.00L1138.09 434.36L1138.33 434.70L1138.57 435.04L1138.83 435.36L1139.11 435.68L1139.40 435.99L1139.71 436.29L1140.03 436.58L1140.39 436.87L1140.78 437.15L1141.21 437.44L1141.69 437.72L1142.28 438.01L1143.07 438.33L1144.77 438.79L1145.56 438.89L1146.15 438.92L1146.63 438.92L1147.06 438.89L1147.45 438.85L1147.81 438.79L1148.13 438.71L1148.44 438.62L1148.73 438.52L1149.01 438.41L1149.27 438.29L1149.51 438.16L1149.75 438.02L1149.97 437.87L1150.19 437.70L1150.39 437.53L1150.59 437.34L1150.78 437.15L1150.96 436.94L1151.13 436.72L1151.30 436.48L1151.46 436.24L1151.61 435.97L1151.76 435.70L1151.91 435.41L1152.04 435.10L1152.18 434.77L1152.31 434.43L1152.43 434.06L1152.55 433.68L1152.66 433.27L1152.77 432.84L1152.87 432.38L1152.98 431.90L1155.27 432.26L1155.56 230.54L1155.79 233.85L1155.85 236.86L1157.07 236.86L1155.85 432.26L1158.14 434.50L1158.25 435.01L1158.35 435.50L1158.46 435.96L1158.57 436.40L1158.69 436.83L1158.81 437.23L1158.94 437.61L1159.08 437.98L1159.21 438.33L1159.36 438.67L1159.51 439.00L1159.66 439.31L1159.82 439.61L1159.99 439.90L1160.16 440.18L1160.34 440.45L1160.53 440.72L1160.73 440.97L1160.93 441.22L1161.15 441.46L1161.37 441.69L1161.61 441.91L1161.85 442.13L1162.11 442.35L1162.39 442.56L1162.68 442.76L1162.99 442.97L1163.31 443.17L1163.67 443.36L1164.06 443.56L1164.49 443.76L1164.97 443.96L1165.56 444.17L1166.35 444.42L1168.05 444.82L1168.84 444.94L1169.43 445.01L1169.91 445.05L1170.34 445.07L1170.73 445.08L1171.09 445.08L1171.41 445.07L1171.72 445.06L1172.01 445.03L1172.29 445.00L1172.55 444.97L1172.79 444.93L1173.03 444.88L1173.25 444.83L1173.47 444.77L1173.67 444.70L1173.87 444.63L1174.06 444.56L1174.24 444.47L1174.41 444.39L1174.58 444.29L1174.74 444.19L1174.89 444.09L1175.04 443.97L1175.19 443.85L1175.32 443.72L1175.46 443.59L1175.59 443.44L1175.71 443.28L1175.83 443.12L1175.94 442.95L1176.05 442.76L1176.15 442.56L1176.26 442.35L1178.55 442.83L1178.84 347.50L1179.07 349.06L1179.13 360.83L1180.35 360.83L1179.13 442.83L1181.42 444.08L1181.53 444.31L1181.63 444.53L1181.74 444.73L1181.85 444.93L1181.97 445.12L1182.09 445.30L1182.22 445.47L1182.36 445.64L1182.49 445.80L1182.64 445.95L1182.79 446.10L1182.94 446.24L1183.10 446.37L1183.27 446.51L1183.44 446.63L1183.62 446.76L1183.81 446.88L1184.01 446.99L1184.21 447.11L1184.43 447.22L1184.65 447.32L1184.89 447.43L1185.13 447.53L1185.39 447.63L1185.67 447.73L1185.96 447.83L1186.27 447.92L1186.59 448.01L1186.95 448.11L1187.34 448.20L1187.77 448.30L1188.25 448.40L1188.84 448.50L1189.63 448.62L1191.33 448.83L1192.12 448.90L1192.71 448.95L1193.19 448.98L1193.62 449.00L1194.01 449.01L1194.37 449.02L1194.69 449.03L1195.00 449.04L1195.29 449.04L1195.57 449.03L1195.83 449.03L1196.07 449.02L1196.31 449.01L1196.53 449.00L1196.75 448.99L1196.95 448.97L1197.15 448.95L1197.34 448.93L1197.52 448.91L1197.69 448.89L1197.86 448.86L1198.02 448.83L1198.17 448.80L1198.32 448.77L1198.47 448.73L1198.60 448.69L1198.74 448.65L1198.87 448.61L1198.99 448.56L1199.11 448.51L1199.22 448.46L1199.33 448.40L1199.43 448.34L1199.54 448.27L1201.83 448.53L1202.12 417.41L1203.58 417.92L1203.63 424.51L1203.63 424.51L1202.41 448.53L1204.70 449.01L1204.81 449.08L1204.91 449.15L1205.02 449.22L1205.13 449.28L1205.25 449.34L1205.37 449.40L1205.50 449.46L1205.64 449.51L1205.77 449.56L1205.92 449.61L1206.07 449.66L1206.22 449.71L1206.38 449.75L1206.55 449.79L1206.72 449.84L1206.90 449.88L1207.09 449.91L1207.29 449.95L1207.49 449.99L1207.71 450.03L1207.93 450.06L1208.17 450.10L1208.41 450.13L1208.67 450.16L1208.95 450.19L1209.24 450.23L1209.55 450.26L1209.87 450.29L1210.23 450.32L1210.62 450.35L1211.05 450.38L1211.53 450.42L1212.12 450.45L1212.91 450.49L1214.61 450.57L1215.40 450.59L1215.99 450.61L1216.47 450.62L1216.90 450.63L1217.29 450.64L1217.65 450.64L1217.97 450.65L1218.28 450.65L1218.57 450.65L1218.85 450.65L1219.11 450.65L1219.35 450.65L1219.59 450.65L1219.81 450.65L1220.03 450.65L1220.23 450.65L1220.43 450.65L1220.62 450.64L1220.80 450.64L1220.97 450.63L1221.14 450.63L1221.30 450.62L1221.45 450.62L1221.60 450.61L1221.75 450.60L1221.88 450.59L1222.02 450.59L1222.15 450.58L1222.27 450.57L1222.39 450.55L1222.50 450.54L1222.61 450.53L1222.71 450.52L1222.82 450.50L1225.11 450.59L1225.40 442.36L1225.63 442.50L1225.69 450.59L1227.98 450.71L1228.09 450.73L1228.19 450.75L1228.30 450.76L1228.41 450.78L1228.53 450.79L1228.65 450.80L1228.78 450.82L1228.92 450.83L1229.05 450.84L1229.20 450.85L1229.35 450.86L1229.50 450.88L1229.66 450.89L1229.83 450.90L1230.00 450.91L1230.18 450.92L1230.37 450.92L1230.57 450.93L1230.77 450.94L1230.99 450.95L1231.21 450.96L1231.45 450.97L1231.69 450.97L1231.95 450.98L1232.23 450.99L1232.52 451.00L1232.83 451.00L1233.15 451.01L1233.51 451.02L1233.90 451.03L1234.33 451.03L1234.81 451.04L1235.40 451.05L1236.19 451.06L1237.89 451.08L1238.68 451.08L1239.27 451.09L1239.75 451.09L1240.18 451.09L1240.57 451.10L1240.93 451.10L1241.25 451.10L1241.56 451.10L1241.85 451.10L1242.13 451.10L1242.39 451.10L1242.63 451.10L1242.87 451.10L1243.09 451.10L1243.31 451.10L1243.51 451.10L1243.71 451.10L1243.90 451.10L1244.08 451.10L1244.25 451.10L1244.42 451.10L1244.58 451.10L1244.73 451.10L1244.88 451.10L1245.03 451.10L1245.16 451.09L1245.30 451.09L1245.43 451.09L1245.55 451.09L1245.67 451.09L1245.78 451.09L1245.89 451.08L1245.99 451.08L1246.10 451.08L1248.39 451.10L1248.68 449.12L1248.91 449.15L1248.97 451.10L1251.26 451.12L1251.37 451.13L1251.47 451.13L1251.58 451.13L1251.69 451.13L1251.81 451.14L1251.93 451.14L1252.06 451.14L1252.20 451.14L1252.33 451.14L1252.48 451.15L1252.63 451.15L1252.78 451.15L1252.94 451.15L1253.11 451.15L1253.28 451.15L1253.46 451.16L1253.65 451.16L1253.85 451.16L1254.05 451.16L1254.27 451.16L1254.49 451.16L1254.73 451.16L1254.97 451.17L1255.23 451.17L1255.51 451.17L1255.80 451.17L1256.11 451.17L1256.43 451.17L1256.79 451.17L1257.18 451.17L1257.61 451.18L1258.09 451.18L1258.68 451.18L1259.47 451.18L1260.32 451.18L1261.48 451.18L1262.65 451.19L1263.81 451.19L1264.98 451.19L1266.14 451.19L1267.30 451.19L1268.47 451.19L1269.63 451.19L1270.80 451.19L1271.96 451.19L1273.12 451.19L1274.29 451.20L1275.45 451.20L1276.62 451.20L1277.78 451.20L1278.94 451.20L1280.11 451.20L1281.27 451.20L1282.44 451.20L1283.60 451.20L1284.76 451.20L1285.93 451.20L1287.09 451.20L1288.26 451.20L1289.42 451.20L1290.58 451.20L1291.75 451.20L1292.91 451.20L1294.08 451.20L1295.24 451.20L1296.40 451.20L1297.57 451.20L1298.73 451.20L1299.90 451.20L1301.06 451.20L1302.22 451.20L1303.39 451.20L1304.55 451.20L1305.72 451.20L1306.88 451.20L1308.04 451.20L1309.21 451.20L1310.37 451.20L1311.54 451.20L1312.70 451.20L1313.86 451.20L1315.03 451.20L1316.19 451.20L1317.36 451.20L1318.52 451.20L1319.68 451.20L1320.85 451.20L1322.01 451.20L1323.18 451.20L1324.34 451.20L1325.50 451.20L1326.67 451.20L1327.83 451.20L1329.00 451.20L1330.16 451.20L1331.32 451.20L1332.49 451.20L1333.65 451.20L1334.82 451.20L1335.98 451.20L1337.14 451.20L1338.31 451.20L1339.47 451.20L1340.64 451.20L1341.80 451.20" fill="none" stroke="#ee0000" stroke-width="3.8" stroke-linejoin="bevel" stroke-linecap="butt"/><path d="M876.20 451.20L876.49 451.20L876.78 451.20L877.07 451.20L877.36 451.20L877.65 451.20L877.95 451.20L878.24 451.20L878.53 451.20L878.82 451.20L879.11 451.20L879.40 451.20L879.69 451.20L879.98 451.20L880.27 451.20L880.56 451.20L880.86 451.20L881.15 451.20L881.44 451.20L881.73 451.20L882.02 451.20L882.31 451.20L882.60 451.20L882.89 451.20L883.18 451.20L883.47 451.20L883.77 451.20L884.06 451.20L884.35 451.20L884.64 451.20L884.93 451.20L885.22 451.20L885.51 451.20L885.80 451.20L886.09 451.20L886.38 451.20L886.68 451.20L886.97 451.20L887.26 451.20L887.55 451.20L887.84 451.20L888.13 451.20L888.42 451.20L888.71 451.20L889.00 451.20L889.29 451.20L889.59 451.20L889.88 451.20L890.17 451.20L890.46 451.20L890.75 451.20L891.04 451.20L891.33 451.20L891.62 451.20L891.91 451.20L892.20 451.20L892.50 451.20L892.79 451.20L893.08 451.20L893.37 451.20L893.66 451.20L893.95 451.20L894.24 451.20L894.53 451.20L894.82 451.20L895.11 451.20L895.41 451.20L895.70 451.20L895.99 451.20L896.28 451.20L896.57 451.20L896.86 451.20L897.15 451.20L897.44 451.20L897.73 451.20L898.02 451.20L898.32 451.20L898.61 451.20L898.90 451.20L899.19 451.20L899.48 451.20L899.77 451.20L900.06 451.20L900.35 451.20L900.64 451.20L900.93 451.20L901.23 451.20L901.52 451.20L901.81 451.20L902.10 451.20L902.39 451.20L902.68 451.20L902.97 451.20L903.26 451.20L903.55 451.20L903.84 451.20L904.14 451.20L904.43 451.20L904.72 451.20L905.01 451.20L905.30 451.20L905.59 451.20L905.88 451.20L906.17 451.20L906.46 451.20L906.75 451.20L907.05 451.20L907.34 451.20L907.63 451.20L907.92 451.20L908.21 451.20L908.50 451.20L908.79 451.20L909.08 451.20L909.37 451.20L909.66 451.20L909.96 451.20L910.25 451.20L910.54 451.20L910.83 451.20L911.12 451.20L911.41 451.20L911.70 451.20L911.99 451.20L912.28 451.20L912.57 451.20L912.87 451.20L913.16 451.20L913.45 451.20L913.74 451.20L914.03 451.20L914.32 451.20L914.61 451.20L914.90 451.20L915.19 451.20L915.48 451.20L915.78 451.20L916.07 451.20L916.36 451.20L916.65 451.20L916.94 451.20L917.23 451.20L917.52 451.20L917.81 451.20L918.10 451.20L918.39 451.20L918.69 451.20L918.98 451.20L919.27 451.20L919.56 451.20L919.85 451.20L920.14 451.20L920.43 451.20L920.72 451.20L921.01 451.20L921.30 451.20L921.60 451.20L921.89 451.20L922.18 451.20L922.47 451.20L922.76 451.20L923.05 451.20L923.34 451.20L923.63 451.20L923.92 451.20L924.21 451.20L924.51 451.20L924.80 451.20L925.09 451.20L925.38 451.20L925.67 451.20L925.96 451.20L926.25 451.20L926.54 451.20L926.83 451.20L927.12 451.20L927.42 451.20L927.71 451.20L928.00 451.20L928.29 451.20L928.58 451.20L928.87 451.20L929.16 451.20L929.45 451.20L929.74 451.20L930.03 451.20L930.33 451.20L930.62 451.20L930.91 451.20L931.20 451.20L931.49 451.20L931.78 451.20L932.07 451.20L932.36 451.20L932.65 451.20L932.94 451.20L933.24 451.20L933.53 451.20L933.82 451.20L934.11 451.20L934.40 451.20L934.69 451.20L934.98 451.20L935.27 451.20L935.56 451.20L935.85 451.20L936.15 451.20L936.44 451.20L936.73 451.20L937.02 451.20L937.31 451.20L937.60 451.20L937.89 451.20L938.18 451.20L938.47 451.20L938.76 451.20L939.06 451.20L939.35 451.20L939.64 451.20L939.93 451.20L940.22 451.20L940.51 451.20L940.80 451.20L941.09 451.20L941.38 451.20L941.67 451.20L941.97 451.20L942.26 451.20L942.55 451.20L942.84 451.20L943.13 451.20L943.42 451.20L943.71 451.20L944.00 451.20L944.29 451.20L944.58 451.20L944.88 451.20L945.17 451.20L945.46 451.20L945.75 451.20L946.04 451.20L946.33 451.20L946.62 451.20L946.91 451.20L947.20 451.20L947.49 451.20L947.79 451.20L948.08 451.20L948.37 451.20L948.66 451.20L948.95 451.20L949.24 451.20L949.53 451.20L949.82 451.20L950.11 451.20L950.40 451.20L950.70 451.20L950.99 451.20L951.28 451.20L951.57 451.20L951.86 451.20L952.15 451.20L952.44 451.20L952.73 451.20L953.02 451.20L953.31 451.20L953.61 451.20L953.90 451.20L954.19 451.20L954.48 451.20L954.77 451.20L955.06 451.20L955.35 451.20L955.64 451.20L955.93 451.20L956.22 451.20L956.52 451.20L956.81 451.20L957.10 451.20L957.39 451.20L957.68 451.20L957.97 451.20L958.26 451.20L958.55 451.20L958.84 451.20L959.13 451.20L959.43 451.20L959.72 451.20L960.01 451.20L960.30 451.20L960.59 451.20L960.88 451.20L961.17 451.20L961.46 451.20L961.75 451.20L962.04 451.20L962.34 451.20L962.63 451.20L962.92 451.20L963.21 451.20L963.50 451.20L963.79 451.20L964.08 451.20L964.37 451.20L964.66 451.20L964.95 451.20L965.25 451.20L965.54 451.20L965.83 451.20L966.12 451.20L966.41 451.20L966.70 451.20L966.99 451.20L967.28 451.20L967.57 451.20L967.86 451.20L968.16 451.20L968.45 451.20L968.74 451.20L969.03 451.20L969.32 451.20L969.61 451.20L969.90 451.20L970.19 451.20L970.48 451.20L970.77 451.20L971.07 451.20L971.36 451.20L971.65 451.20L971.94 451.20L972.23 451.20L972.52 451.20L972.81 451.20L973.10 451.20L973.39 451.20L973.68 451.20L973.98 451.20L974.27 451.20L974.56 451.20L974.85 451.20L975.14 451.20L975.43 451.20L975.72 451.20L976.01 451.20L976.30 451.20L976.59 451.20L976.89 451.20L977.18 451.20L977.47 451.20L977.76 451.20L978.05 451.20L978.34 451.20L978.63 451.20L978.92 451.20L979.21 451.20L979.50 451.20L979.80 451.20L980.09 451.20L980.38 451.20L980.67 451.20L980.96 451.20L981.25 451.18L981.54 451.16L981.83 451.14L982.12 451.12L982.41 451.10L982.71 451.08L983.00 451.06L983.29 451.04L983.58 451.02L983.87 451.01L984.16 450.99L984.45 450.97L984.74 450.95L985.03 450.93L985.32 450.91L985.62 450.89L985.91 450.87L986.20 450.85L986.49 450.83L986.78 450.81L987.07 450.79L987.36 450.77L987.65 450.75L987.94 450.73L988.23 450.71L988.53 450.69L988.82 450.67L989.11 450.65L989.40 450.63L989.69 450.62L989.98 450.60L990.27 450.58L990.56 450.56L990.85 450.54L991.14 450.52L991.44 450.50L991.73 450.48L992.02 450.46L992.31 450.44L992.60 450.42L992.89 450.39L993.18 450.36L993.47 450.33L993.76 450.30L994.05 450.26L994.35 450.23L994.64 450.20L994.93 450.17L995.22 450.14L995.51 450.11L995.80 450.08L996.09 450.05L996.38 450.01L996.67 449.98L996.96 449.95L997.26 449.92L997.55 449.89L997.84 449.86L998.13 449.83L998.42 449.80L998.71 449.77L999.00 449.73L999.29 449.70L999.58 449.67L999.87 449.64L1000.17 449.61L1000.46 449.58L1000.75 449.55L1001.04 449.52L1001.33 449.48L1001.62 449.45L1001.91 449.42L1002.20 449.39L1002.49 449.36L1002.78 449.33L1003.08 449.30L1003.37 449.27L1003.66 449.24L1003.95 449.20L1004.24 449.17L1004.53 449.14L1004.82 449.11L1005.11 449.08L1005.40 449.05L1005.69 449.02L1005.99 448.99L1006.28 448.95L1006.57 448.92L1006.86 448.89L1007.15 448.86L1007.44 448.80L1007.73 448.74L1008.02 448.68L1008.31 448.62L1008.60 448.56L1008.90 448.50L1009.19 448.44L1009.48 448.38L1009.77 448.32L1010.06 448.26L1010.35 448.20L1010.64 448.14L1010.93 448.08L1011.22 448.02L1011.51 447.96L1011.81 447.90L1012.10 447.84L1012.39 447.78L1012.68 447.72L1012.97 447.66L1013.26 447.60L1013.55 447.54L1013.84 447.48L1014.13 447.42L1014.42 447.36L1014.72 447.30L1015.01 447.25L1015.30 447.20L1015.59 447.15L1015.88 447.09L1016.17 447.04L1016.46 446.99L1016.75 446.94L1017.04 446.89L1017.33 446.83L1017.63 446.78L1017.92 446.73L1018.21 446.68L1018.50 446.63L1018.79 446.57L1019.08 446.52L1019.37 446.47L1019.66 446.42L1019.95 446.37L1020.24 446.31L1020.54 446.26L1020.83 446.16L1021.12 446.05L1021.41 445.94L1021.70 445.84L1021.99 445.73L1022.28 445.62L1022.57 445.52L1022.86 445.41L1023.15 445.30L1023.45 445.20L1023.74 445.09L1024.03 444.99L1024.32 444.88L1024.61 444.77L1024.90 444.67L1025.19 444.56L1025.48 444.45L1025.77 444.35L1026.06 444.24L1026.36 444.14L1026.65 444.03L1026.94 443.92L1027.23 443.82L1027.52 443.71L1027.81 443.60L1028.10 443.50L1028.39 443.39L1028.68 443.28L1028.97 443.18L1029.27 443.07L1029.56 442.97L1029.85 442.86L1030.14 442.75L1030.43 442.65L1030.72 442.54L1031.01 442.43L1031.30 442.33L1031.59 442.22L1031.88 442.12L1032.18 442.01L1032.47 441.90L1032.76 441.80L1033.05 441.69L1033.34 441.58L1033.63 441.41L1033.92 441.24L1034.21 441.06L1034.50 440.89L1034.79 440.72L1035.09 440.54L1035.38 440.37L1035.67 440.20L1035.96 440.02L1036.25 439.85L1036.54 439.68L1036.83 439.50L1037.12 439.33L1037.41 439.16L1037.70 438.98L1038.00 438.81L1038.29 438.64L1038.58 438.46L1038.87 438.29L1039.16 438.12L1039.45 437.95L1039.74 437.77L1040.03 437.60L1040.32 437.43L1040.61 437.40L1040.91 437.37L1041.20 437.34L1041.49 437.31L1041.78 437.28L1042.07 437.25L1042.36 437.22L1042.65 437.19L1042.94 437.16L1043.23 437.13L1043.52 437.10L1043.82 437.07L1044.11 437.04L1044.40 437.01L1044.69 436.98L1044.98 436.95L1045.27 436.92L1045.56 436.89L1045.85 436.86L1046.14 436.83L1046.43 436.80L1046.73 436.77L1047.02 436.74L1047.31 436.71L1047.60 436.68L1047.89 436.65L1048.18 436.54L1048.47 436.44L1048.76 436.33L1049.05 436.23L1049.34 436.13L1049.64 436.02L1049.93 435.92L1050.22 435.81L1050.51 435.71L1050.80 435.61L1051.09 435.30L1051.38 435.00L1051.67 434.70L1051.96 434.39L1052.25 434.09L1052.55 433.79L1052.84 433.48L1053.13 433.18L1053.42 432.88L1053.71 432.57L1054.00 432.27L1054.29 431.97L1054.58 431.66L1054.87 431.36L1055.16 431.06L1055.46 430.75L1055.75 430.45L1056.04 430.15L1056.33 429.84L1056.62 429.54L1056.91 429.24L1057.20 428.94L1057.49 428.63L1057.78 428.33L1058.07 428.03L1058.37 427.72L1058.66 427.42L1058.95 427.12L1059.24 426.81L1059.53 426.51L1059.82 426.25L1060.11 425.99L1060.40 425.73L1060.69 425.47L1060.98 425.21L1061.28 424.95L1061.57 424.69L1061.86 424.43L1062.15 424.17L1062.44 423.91L1062.73 423.65L1063.02 423.39L1063.31 423.38L1063.60 423.38L1063.89 423.37L1064.19 423.36L1064.48 423.35L1064.77 423.34L1065.06 423.34L1065.35 423.33L1065.64 423.32L1065.93 423.31L1066.22 423.31L1066.51 423.30L1066.80 423.29L1067.10 423.28L1067.39 423.28L1067.68 423.27L1067.97 423.26L1068.26 423.25L1068.55 423.25L1068.84 423.24L1069.13 423.23L1069.42 423.22L1069.71 423.21L1070.01 423.21L1070.30 423.20L1070.59 423.19L1070.88 423.18L1071.17 423.18L1071.46 423.17L1071.75 423.16L1072.04 423.15L1072.33 423.15L1072.62 423.14L1072.92 423.13L1073.21 423.00L1073.50 422.87L1073.79 422.74L1074.08 422.61L1074.37 422.48L1074.66 422.35L1074.95 422.22L1075.24 422.09L1075.53 421.64L1075.83 421.18L1076.12 420.73L1076.41 420.27L1076.70 419.82L1076.99 419.36L1077.28 418.91L1077.57 418.45L1077.86 418.00L1078.15 417.54L1078.44 417.09L1078.74 416.63L1079.03 416.18L1079.32 415.72L1079.61 415.27L1079.90 414.81L1080.19 414.36L1080.48 413.90L1080.77 413.45L1081.06 412.99L1081.35 412.54L1081.65 412.09L1081.94 411.63L1082.23 411.18L1082.52 410.72L1082.81 410.27L1083.10 409.81L1083.39 409.36L1083.68 408.90L1083.97 408.45L1084.26 407.99L1084.56 407.54L1084.85 407.44L1085.14 407.34L1085.43 407.24L1085.72 407.15L1086.01 407.05L1086.30 406.95L1086.59 406.85L1086.88 406.76L1087.17 406.91L1087.47 407.07L1087.76 407.22L1088.05 407.38L1088.34 407.54L1088.63 407.69L1088.92 407.85L1089.21 408.00L1089.50 408.16L1089.79 408.32L1090.08 408.53L1090.38 408.75L1090.67 408.97L1090.96 409.18L1091.25 409.40L1091.54 409.62L1091.83 409.83L1092.12 410.05L1092.41 410.27L1092.70 410.48L1092.99 410.70L1093.29 410.92L1093.58 411.00L1093.87 411.09L1094.16 411.18L1094.45 411.26L1094.74 411.35L1095.03 411.44L1095.32 411.52L1095.61 411.61L1095.90 411.70L1096.20 411.78L1096.49 411.87L1096.78 411.96L1097.07 411.80L1097.36 411.65L1097.65 411.50L1097.94 411.35L1098.23 411.20L1098.52 411.05L1098.81 410.89L1099.11 410.74L1099.40 410.59L1099.69 410.44L1099.98 410.29L1100.27 410.14L1100.56 409.77L1100.85 409.41L1101.14 409.04L1101.43 408.68L1101.72 408.32L1102.02 407.95L1102.31 407.59L1102.60 407.22L1102.89 406.86L1103.18 406.50L1103.47 406.03L1103.76 405.56L1104.05 405.09L1104.34 404.63L1104.63 404.16L1104.93 403.69L1105.22 403.22L1105.51 402.75L1105.80 402.29L1106.09 401.82L1106.38 401.51L1106.67 401.20L1106.96 400.88L1107.25 400.57L1107.54 400.26L1107.84 399.95L1108.13 399.64L1108.42 399.32L1108.71 399.01L1109.00 398.70L1109.29 399.01L1109.58 399.32L1109.87 399.64L1110.16 399.95L1110.45 400.26L1110.75 400.57L1111.04 400.88L1111.33 401.20L1111.62 401.51L1111.91 401.82L1112.20 402.29L1112.49 402.75L1112.78 403.22L1113.07 403.69L1113.36 404.16L1113.66 404.63L1113.95 405.09L1114.24 405.56L1114.53 406.03L1114.82 406.50L1115.11 406.86L1115.40 407.22L1115.69 407.59L1115.98 407.95L1116.27 408.32L1116.57 408.68L1116.86 409.04L1117.15 409.41L1117.44 409.77L1117.73 410.14L1118.02 410.29L1118.31 410.44L1118.60 410.59L1118.89 410.74L1119.18 410.89L1119.48 411.05L1119.77 411.20L1120.06 411.35L1120.35 411.50L1120.64 411.65L1120.93 411.80L1121.22 411.96L1121.51 411.87L1121.80 411.78L1122.09 411.70L1122.39 411.61L1122.68 411.52L1122.97 411.44L1123.26 411.35L1123.55 411.26L1123.84 411.18L1124.13 411.09L1124.42 411.00L1124.71 410.92L1125.00 410.70L1125.30 410.48L1125.59 410.27L1125.88 410.05L1126.17 409.83L1126.46 409.62L1126.75 409.40L1127.04 409.18L1127.33 408.97L1127.62 408.75L1127.91 408.53L1128.21 408.32L1128.50 408.16L1128.79 408.00L1129.08 407.85L1129.37 407.69L1129.66 407.54L1129.95 407.38L1130.24 407.22L1130.53 407.07L1130.82 406.91L1131.12 406.76L1131.41 406.85L1131.70 406.95L1131.99 407.05L1132.28 407.15L1132.57 407.24L1132.86 407.34L1133.15 407.44L1133.44 407.54L1133.73 407.99L1134.03 408.45L1134.32 408.90L1134.61 409.36L1134.90 409.81L1135.19 410.27L1135.48 410.72L1135.77 411.18L1136.06 411.63L1136.35 412.09L1136.64 412.54L1136.94 412.99L1137.23 413.45L1137.52 413.90L1137.81 414.36L1138.10 414.81L1138.39 415.27L1138.68 415.72L1138.97 416.18L1139.26 416.63L1139.55 417.09L1139.85 417.54L1140.14 418.00L1140.43 418.45L1140.72 418.91L1141.01 419.36L1141.30 419.82L1141.59 420.27L1141.88 420.73L1142.17 421.18L1142.46 421.64L1142.76 422.09L1143.05 422.22L1143.34 422.35L1143.63 422.48L1143.92 422.61L1144.21 422.74L1144.50 422.87L1144.79 423.00L1145.08 423.13L1145.37 423.14L1145.67 423.15L1145.96 423.15L1146.25 423.16L1146.54 423.17L1146.83 423.18L1147.12 423.18L1147.41 423.19L1147.70 423.20L1147.99 423.21L1148.28 423.21L1148.58 423.22L1148.87 423.23L1149.16 423.24L1149.45 423.25L1149.74 423.25L1150.03 423.26L1150.32 423.27L1150.61 423.28L1150.90 423.28L1151.19 423.29L1151.49 423.30L1151.78 423.31L1152.07 423.31L1152.36 423.32L1152.65 423.33L1152.94 423.34L1153.23 423.34L1153.52 423.35L1153.81 423.36L1154.10 423.37L1154.40 423.38L1154.69 423.38L1154.98 423.39L1155.27 423.65L1155.56 423.91L1155.85 424.17L1156.14 424.43L1156.43 424.69L1156.72 424.95L1157.01 425.21L1157.31 425.47L1157.60 425.73L1157.89 425.99L1158.18 426.25L1158.47 426.51L1158.76 426.81L1159.05 427.12L1159.34 427.42L1159.63 427.72L1159.92 428.03L1160.22 428.33L1160.51 428.63L1160.80 428.94L1161.09 429.24L1161.38 429.54L1161.67 429.84L1161.96 430.15L1162.25 430.45L1162.54 430.75L1162.83 431.06L1163.13 431.36L1163.42 431.66L1163.71 431.97L1164.00 432.27L1164.29 432.57L1164.58 432.88L1164.87 433.18L1165.16 433.48L1165.45 433.79L1165.74 434.09L1166.04 434.39L1166.33 434.70L1166.62 435.00L1166.91 435.30L1167.20 435.61L1167.49 435.71L1167.78 435.81L1168.07 435.92L1168.36 436.02L1168.65 436.13L1168.95 436.23L1169.24 436.33L1169.53 436.44L1169.82 436.54L1170.11 436.65L1170.40 436.68L1170.69 436.71L1170.98 436.74L1171.27 436.77L1171.56 436.80L1171.86 436.83L1172.15 436.86L1172.44 436.89L1172.73 436.92L1173.02 436.95L1173.31 436.98L1173.60 437.01L1173.89 437.04L1174.18 437.07L1174.47 437.10L1174.77 437.13L1175.06 437.16L1175.35 437.19L1175.64 437.22L1175.93 437.25L1176.22 437.28L1176.51 437.31L1176.80 437.34L1177.09 437.37L1177.38 437.40L1177.68 437.43L1177.97 437.60L1178.26 437.77L1178.55 437.95L1178.84 438.12L1179.13 438.29L1179.42 438.46L1179.71 438.64L1180.00 438.81L1180.29 438.98L1180.59 439.16L1180.88 439.33L1181.17 439.50L1181.46 439.68L1181.75 439.85L1182.04 440.02L1182.33 440.20L1182.62 440.37L1182.91 440.54L1183.20 440.72L1183.50 440.89L1183.79 441.06L1184.08 441.24L1184.37 441.41L1184.66 441.58L1184.95 441.69L1185.24 441.80L1185.53 441.90L1185.82 442.01L1186.11 442.12L1186.41 442.22L1186.70 442.33L1186.99 442.43L1187.28 442.54L1187.57 442.65L1187.86 442.75L1188.15 442.86L1188.44 442.97L1188.73 443.07L1189.02 443.18L1189.32 443.28L1189.61 443.39L1189.90 443.50L1190.19 443.60L1190.48 443.71L1190.77 443.82L1191.06 443.92L1191.35 444.03L1191.64 444.14L1191.93 444.24L1192.23 444.35L1192.52 444.45L1192.81 444.56L1193.10 444.67L1193.39 444.77L1193.68 444.88L1193.97 444.99L1194.26 445.09L1194.55 445.20L1194.84 445.30L1195.14 445.41L1195.43 445.52L1195.72 445.62L1196.01 445.73L1196.30 445.84L1196.59 445.94L1196.88 446.05L1197.17 446.16L1197.46 446.26L1197.75 446.31L1198.05 446.37L1198.34 446.42L1198.63 446.47L1198.92 446.52L1199.21 446.57L1199.50 446.63L1199.79 446.68L1200.08 446.73L1200.37 446.78L1200.66 446.83L1200.96 446.89L1201.25 446.94L1201.54 446.99L1201.83 447.04L1202.12 447.09L1202.41 447.15L1202.70 447.20L1202.99 447.25L1203.28 447.30L1203.57 447.36L1203.87 447.42L1204.16 447.48L1204.45 447.54L1204.74 447.60L1205.03 447.66L1205.32 447.72L1205.61 447.78L1205.90 447.84L1206.19 447.90L1206.48 447.96L1206.78 448.02L1207.07 448.08L1207.36 448.14L1207.65 448.20L1207.94 448.26L1208.23 448.32L1208.52 448.38L1208.81 448.44L1209.10 448.50L1209.39 448.56L1209.69 448.62L1209.98 448.68L1210.27 448.74L1210.56 448.80L1210.85 448.86L1211.14 448.89L1211.43 448.92L1211.72 448.95L1212.01 448.99L1212.30 449.02L1212.60 449.05L1212.89 449.08L1213.18 449.11L1213.47 449.14L1213.76 449.17L1214.05 449.20L1214.34 449.24L1214.63 449.27L1214.92 449.30L1215.21 449.33L1215.51 449.36L1215.80 449.39L1216.09 449.42L1216.38 449.45L1216.67 449.48L1216.96 449.52L1217.25 449.55L1217.54 449.58L1217.83 449.61L1218.12 449.64L1218.42 449.67L1218.71 449.70L1219.00 449.73L1219.29 449.77L1219.58 449.80L1219.87 449.83L1220.16 449.86L1220.45 449.89L1220.74 449.92L1221.03 449.95L1221.33 449.98L1221.62 450.01L1221.91 450.05L1222.20 450.08L1222.49 450.11L1222.78 450.14L1223.07 450.17L1223.36 450.20L1223.65 450.23L1223.94 450.26L1224.24 450.30L1224.53 450.33L1224.82 450.36L1225.11 450.39L1225.40 450.42L1225.69 450.44L1225.98 450.46L1226.27 450.48L1226.56 450.50L1226.85 450.52L1227.15 450.54L1227.44 450.56L1227.73 450.58L1228.02 450.60L1228.31 450.62L1228.60 450.63L1228.89 450.65L1229.18 450.67L1229.47 450.69L1229.76 450.71L1230.06 450.73L1230.35 450.75L1230.64 450.77L1230.93 450.79L1231.22 450.81L1231.51 450.83L1231.80 450.85L1232.09 450.87L1232.38 450.89L1232.67 450.91L1232.97 450.93L1233.26 450.95L1233.55 450.97L1233.84 450.99L1234.13 451.01L1234.42 451.02L1234.71 451.04L1235.00 451.06L1235.29 451.08L1235.58 451.10L1235.88 451.12L1236.17 451.14L1236.46 451.16L1236.75 451.18L1237.04 451.20L1237.33 451.20L1237.62 451.20L1237.91 451.20L1238.20 451.20L1238.49 451.20L1238.79 451.20L1239.08 451.20L1239.37 451.20L1239.66 451.20L1239.95 451.20L1240.24 451.20L1240.53 451.20L1240.82 451.20L1241.11 451.20L1241.40 451.20L1241.70 451.20L1241.99 451.20L1242.28 451.20L1242.57 451.20L1242.86 451.20L1243.15 451.20L1243.44 451.20L1243.73 451.20L1244.02 451.20L1244.31 451.20L1244.61 451.20L1244.90 451.20L1245.19 451.20L1245.48 451.20L1245.77 451.20L1246.06 451.20L1246.35 451.20L1246.64 451.20L1246.93 451.20L1247.22 451.20L1247.52 451.20L1247.81 451.20L1248.10 451.20L1248.39 451.20L1248.68 451.20L1248.97 451.20L1249.26 451.20L1249.55 451.20L1249.84 451.20L1250.13 451.20L1250.43 451.20L1250.72 451.20L1251.01 451.20L1251.30 451.20L1251.59 451.20L1251.88 451.20L1252.17 451.20L1252.46 451.20L1252.75 451.20L1253.04 451.20L1253.34 451.20L1253.63 451.20L1253.92 451.20L1254.21 451.20L1254.50 451.20L1254.79 451.20L1255.08 451.20L1255.37 451.20L1255.66 451.20L1255.95 451.20L1256.25 451.20L1256.54 451.20L1256.83 451.20L1257.12 451.20L1257.41 451.20L1257.70 451.20L1257.99 451.20L1258.28 451.20L1258.57 451.20L1258.86 451.20L1259.16 451.20L1259.45 451.20L1259.74 451.20L1260.03 451.20L1260.32 451.20L1260.61 451.20L1260.90 451.20L1261.19 451.20L1261.48 451.20L1261.77 451.20L1262.07 451.20L1262.36 451.20L1262.65 451.20L1262.94 451.20L1263.23 451.20L1263.52 451.20L1263.81 451.20L1264.10 451.20L1264.39 451.20L1264.68 451.20L1264.98 451.20L1265.27 451.20L1265.56 451.20L1265.85 451.20L1266.14 451.20L1266.43 451.20L1266.72 451.20L1267.01 451.20L1267.30 451.20L1267.59 451.20L1267.89 451.20L1268.18 451.20L1268.47 451.20L1268.76 451.20L1269.05 451.20L1269.34 451.20L1269.63 451.20L1269.92 451.20L1270.21 451.20L1270.50 451.20L1270.80 451.20L1271.09 451.20L1271.38 451.20L1271.67 451.20L1271.96 451.20L1272.25 451.20L1272.54 451.20L1272.83 451.20L1273.12 451.20L1273.41 451.20L1273.71 451.20L1274.00 451.20L1274.29 451.20L1274.58 451.20L1274.87 451.20L1275.16 451.20L1275.45 451.20L1275.74 451.20L1276.03 451.20L1276.32 451.20L1276.62 451.20L1276.91 451.20L1277.20 451.20L1277.49 451.20L1277.78 451.20L1278.07 451.20L1278.36 451.20L1278.65 451.20L1278.94 451.20L1279.23 451.20L1279.53 451.20L1279.82 451.20L1280.11 451.20L1280.40 451.20L1280.69 451.20L1280.98 451.20L1281.27 451.20L1281.56 451.20L1281.85 451.20L1282.14 451.20L1282.44 451.20L1282.73 451.20L1283.02 451.20L1283.31 451.20L1283.60 451.20L1283.89 451.20L1284.18 451.20L1284.47 451.20L1284.76 451.20L1285.05 451.20L1285.35 451.20L1285.64 451.20L1285.93 451.20L1286.22 451.20L1286.51 451.20L1286.80 451.20L1287.09 451.20L1287.38 451.20L1287.67 451.20L1287.96 451.20L1288.26 451.20L1288.55 451.20L1288.84 451.20L1289.13 451.20L1289.42 451.20L1289.71 451.20L1290.00 451.20L1290.29 451.20L1290.58 451.20L1290.87 451.20L1291.17 451.20L1291.46 451.20L1291.75 451.20L1292.04 451.20L1292.33 451.20L1292.62 451.20L1292.91 451.20L1293.20 451.20L1293.49 451.20L1293.78 451.20L1294.08 451.20L1294.37 451.20L1294.66 451.20L1294.95 451.20L1295.24 451.20L1295.53 451.20L1295.82 451.20L1296.11 451.20L1296.40 451.20L1296.69 451.20L1296.99 451.20L1297.28 451.20L1297.57 451.20L1297.86 451.20L1298.15 451.20L1298.44 451.20L1298.73 451.20L1299.02 451.20L1299.31 451.20L1299.60 451.20L1299.90 451.20L1300.19 451.20L1300.48 451.20L1300.77 451.20L1301.06 451.20L1301.35 451.20L1301.64 451.20L1301.93 451.20L1302.22 451.20L1302.51 451.20L1302.81 451.20L1303.10 451.20L1303.39 451.20L1303.68 451.20L1303.97 451.20L1304.26 451.20L1304.55 451.20L1304.84 451.20L1305.13 451.20L1305.42 451.20L1305.72 451.20L1306.01 451.20L1306.30 451.20L1306.59 451.20L1306.88 451.20L1307.17 451.20L1307.46 451.20L1307.75 451.20L1308.04 451.20L1308.33 451.20L1308.63 451.20L1308.92 451.20L1309.21 451.20L1309.50 451.20L1309.79 451.20L1310.08 451.20L1310.37 451.20L1310.66 451.20L1310.95 451.20L1311.24 451.20L1311.54 451.20L1311.83 451.20L1312.12 451.20L1312.41 451.20L1312.70 451.20L1312.99 451.20L1313.28 451.20L1313.57 451.20L1313.86 451.20L1314.15 451.20L1314.45 451.20L1314.74 451.20L1315.03 451.20L1315.32 451.20L1315.61 451.20L1315.90 451.20L1316.19 451.20L1316.48 451.20L1316.77 451.20L1317.06 451.20L1317.36 451.20L1317.65 451.20L1317.94 451.20L1318.23 451.20L1318.52 451.20L1318.81 451.20L1319.10 451.20L1319.39 451.20L1319.68 451.20L1319.97 451.20L1320.27 451.20L1320.56 451.20L1320.85 451.20L1321.14 451.20L1321.43 451.20L1321.72 451.20L1322.01 451.20L1322.30 451.20L1322.59 451.20L1322.88 451.20L1323.18 451.20L1323.47 451.20L1323.76 451.20L1324.05 451.20L1324.34 451.20L1324.63 451.20L1324.92 451.20L1325.21 451.20L1325.50 451.20L1325.79 451.20L1326.09 451.20L1326.38 451.20L1326.67 451.20L1326.96 451.20L1327.25 451.20L1327.54 451.20L1327.83 451.20L1328.12 451.20L1328.41 451.20L1328.70 451.20L1329.00 451.20L1329.29 451.20L1329.58 451.20L1329.87 451.20L1330.16 451.20L1330.45 451.20L1330.74 451.20L1331.03 451.20L1331.32 451.20L1331.61 451.20L1331.91 451.20L1332.20 451.20L1332.49 451.20L1332.78 451.20L1333.07 451.20L1333.36 451.20L1333.65 451.20L1333.94 451.20L1334.23 451.20L1334.52 451.20L1334.82 451.20L1335.11 451.20L1335.40 451.20L1335.69 451.20L1335.98 451.20L1336.27 451.20L1336.56 451.20L1336.85 451.20L1337.14 451.20L1337.43 451.20L1337.73 451.20L1338.02 451.20L1338.31 451.20L1338.60 451.20L1338.89 451.20L1339.18 451.20L1339.47 451.20L1339.76 451.20L1340.05 451.20L1340.34 451.20L1340.64 451.20L1340.93 451.20L1341.22 451.20L1341.51 451.20L1341.80 451.20" fill="none" stroke="#28578f" stroke-width="4" stroke-linejoin="round" stroke-linecap="butt"/><rect x="1180.6" y="49" width="170.4" height="84" fill="#fff" stroke="#1a1a1a" stroke-width="1.6"/><line x1="1183.20" y1="71.20" x2="1235.00" y2="71.20" stroke="#ee0000" stroke-width="3.8" stroke-linecap="round"/><line x1="1183.20" y1="112.50" x2="1235.00" y2="112.50" stroke="#28578f" stroke-width="4" stroke-linecap="round"/><text transform="translate(1240 79) scale(0.955 1.03)" font-family="Liberation Sans, Arial, sans-serif" font-size="27.5"><tspan font-family="Liberation Serif, Times New Roman, serif">w</tspan><tspan font-family="Liberation Serif, Times New Roman, serif" font-size="18" dy="6">0</tspan><tspan dy="-6">=10&#956;m</tspan></text><text transform="translate(1240 118) scale(0.955 1.03)" font-family="Liberation Sans, Arial, sans-serif" font-size="27.5"><tspan font-family="Liberation Serif, Times New Roman, serif">w</tspan><tspan font-family="Liberation Serif, Times New Roman, serif" font-size="18" dy="6">0</tspan><tspan dy="-6">=5&#956;m</tspan></text><text x="812.30" y="25.00" font-family="Liberation Sans, Arial, sans-serif" font-size="23.5">&#215;</text><text transform="translate(826.20 22.00) scale(1 1.04)" font-family="Liberation Sans, Arial, sans-serif" font-size="28">10</text><text x="857.80" y="12.40" font-family="Liberation Sans, Arial, sans-serif" font-size="17.5" letter-spacing="-0.8">25</text><text x="1376" y="19.5" font-family="Liberation Sans, Arial, sans-serif" font-size="26" font-weight="bold">b)</text><text transform="translate(724.3 260) rotate(-90)" font-family="Liberation Sans, Arial, sans-serif" font-size="28.5" text-anchor="middle">density(m<tspan font-size="19" dy="-13">3</tspan><tspan dy="13">)</tspan></text><text x="1107.6" y="590.2" font-family="Liberation Sans, Arial, sans-serif" font-size="28" text-anchor="middle" letter-spacing="0.5">x(&#956;m<tspan dx="1.6">)</tspan></text></svg></body></html>
